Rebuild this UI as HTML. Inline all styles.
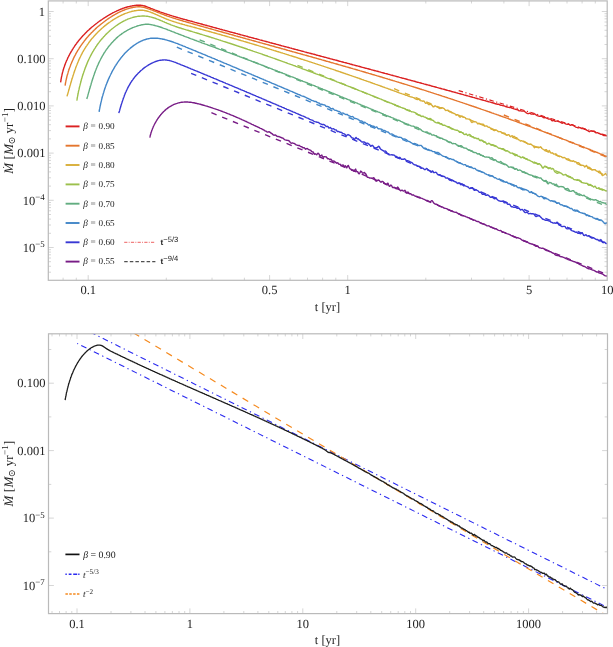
<!DOCTYPE html>
<html lang="en">
<head>
<meta charset="utf-8">
<title>Mass fallback rate</title>
<style>
html,body{margin:0;padding:0;background:#ffffff;}
body{width:613px;height:647px;overflow:hidden;}
svg{display:block;}
</style>
</head>
<body>
<svg width="613" height="647" viewBox="0 0 613 647" text-rendering="geometricPrecision">
<rect width="613" height="647" fill="#ffffff"/>
<g id="top">
<line x1="63.1" y1="280.3" x2="63.1" y2="277.7" stroke="#b4b4b4" stroke-width="0.55" />
<line x1="63.1" y1="0.9" x2="63.1" y2="3.5" stroke="#b4b4b4" stroke-width="0.55" />
<line x1="76.3" y1="280.3" x2="76.3" y2="277.7" stroke="#b4b4b4" stroke-width="0.55" />
<line x1="76.3" y1="0.9" x2="76.3" y2="3.5" stroke="#b4b4b4" stroke-width="0.55" />
<line x1="88.2" y1="280.3" x2="88.2" y2="275.1" stroke="#b4b4b4" stroke-width="0.55" />
<line x1="88.2" y1="0.9" x2="88.2" y2="6.1" stroke="#b4b4b4" stroke-width="0.55" />
<line x1="166.3" y1="280.3" x2="166.3" y2="277.7" stroke="#b4b4b4" stroke-width="0.55" />
<line x1="166.3" y1="0.9" x2="166.3" y2="3.5" stroke="#b4b4b4" stroke-width="0.55" />
<line x1="212.0" y1="280.3" x2="212.0" y2="277.7" stroke="#b4b4b4" stroke-width="0.55" />
<line x1="212.0" y1="0.9" x2="212.0" y2="3.5" stroke="#b4b4b4" stroke-width="0.55" />
<line x1="244.4" y1="280.3" x2="244.4" y2="277.7" stroke="#b4b4b4" stroke-width="0.55" />
<line x1="244.4" y1="0.9" x2="244.4" y2="3.5" stroke="#b4b4b4" stroke-width="0.55" />
<line x1="269.6" y1="280.3" x2="269.6" y2="275.1" stroke="#b4b4b4" stroke-width="0.55" />
<line x1="269.6" y1="0.9" x2="269.6" y2="6.1" stroke="#b4b4b4" stroke-width="0.55" />
<line x1="290.1" y1="280.3" x2="290.1" y2="277.7" stroke="#b4b4b4" stroke-width="0.55" />
<line x1="290.1" y1="0.9" x2="290.1" y2="3.5" stroke="#b4b4b4" stroke-width="0.55" />
<line x1="307.5" y1="280.3" x2="307.5" y2="277.7" stroke="#b4b4b4" stroke-width="0.55" />
<line x1="307.5" y1="0.9" x2="307.5" y2="3.5" stroke="#b4b4b4" stroke-width="0.55" />
<line x1="322.6" y1="280.3" x2="322.6" y2="277.7" stroke="#b4b4b4" stroke-width="0.55" />
<line x1="322.6" y1="0.9" x2="322.6" y2="3.5" stroke="#b4b4b4" stroke-width="0.55" />
<line x1="335.8" y1="280.3" x2="335.8" y2="277.7" stroke="#b4b4b4" stroke-width="0.55" />
<line x1="335.8" y1="0.9" x2="335.8" y2="3.5" stroke="#b4b4b4" stroke-width="0.55" />
<line x1="347.7" y1="280.3" x2="347.7" y2="275.1" stroke="#b4b4b4" stroke-width="0.55" />
<line x1="347.7" y1="0.9" x2="347.7" y2="6.1" stroke="#b4b4b4" stroke-width="0.55" />
<line x1="425.8" y1="280.3" x2="425.8" y2="277.7" stroke="#b4b4b4" stroke-width="0.55" />
<line x1="425.8" y1="0.9" x2="425.8" y2="3.5" stroke="#b4b4b4" stroke-width="0.55" />
<line x1="471.5" y1="280.3" x2="471.5" y2="277.7" stroke="#b4b4b4" stroke-width="0.55" />
<line x1="471.5" y1="0.9" x2="471.5" y2="3.5" stroke="#b4b4b4" stroke-width="0.55" />
<line x1="503.9" y1="280.3" x2="503.9" y2="277.7" stroke="#b4b4b4" stroke-width="0.55" />
<line x1="503.9" y1="0.9" x2="503.9" y2="3.5" stroke="#b4b4b4" stroke-width="0.55" />
<line x1="529.1" y1="280.3" x2="529.1" y2="275.1" stroke="#b4b4b4" stroke-width="0.55" />
<line x1="529.1" y1="0.9" x2="529.1" y2="6.1" stroke="#b4b4b4" stroke-width="0.55" />
<line x1="549.6" y1="280.3" x2="549.6" y2="277.7" stroke="#b4b4b4" stroke-width="0.55" />
<line x1="549.6" y1="0.9" x2="549.6" y2="3.5" stroke="#b4b4b4" stroke-width="0.55" />
<line x1="567.0" y1="280.3" x2="567.0" y2="277.7" stroke="#b4b4b4" stroke-width="0.55" />
<line x1="567.0" y1="0.9" x2="567.0" y2="3.5" stroke="#b4b4b4" stroke-width="0.55" />
<line x1="582.1" y1="280.3" x2="582.1" y2="277.7" stroke="#b4b4b4" stroke-width="0.55" />
<line x1="582.1" y1="0.9" x2="582.1" y2="3.5" stroke="#b4b4b4" stroke-width="0.55" />
<line x1="595.3" y1="280.3" x2="595.3" y2="277.7" stroke="#b4b4b4" stroke-width="0.55" />
<line x1="595.3" y1="0.9" x2="595.3" y2="3.5" stroke="#b4b4b4" stroke-width="0.55" />
<line x1="48.3" y1="272.2" x2="51.0" y2="272.2" stroke="#b4b4b4" stroke-width="0.55" />
<line x1="607.2" y1="272.2" x2="604.5" y2="272.2" stroke="#b4b4b4" stroke-width="0.55" />
<line x1="48.3" y1="266.3" x2="51.0" y2="266.3" stroke="#b4b4b4" stroke-width="0.55" />
<line x1="607.2" y1="266.3" x2="604.5" y2="266.3" stroke="#b4b4b4" stroke-width="0.55" />
<line x1="48.3" y1="261.7" x2="51.0" y2="261.7" stroke="#b4b4b4" stroke-width="0.55" />
<line x1="607.2" y1="261.7" x2="604.5" y2="261.7" stroke="#b4b4b4" stroke-width="0.55" />
<line x1="48.3" y1="258.0" x2="51.0" y2="258.0" stroke="#b4b4b4" stroke-width="0.55" />
<line x1="607.2" y1="258.0" x2="604.5" y2="258.0" stroke="#b4b4b4" stroke-width="0.55" />
<line x1="48.3" y1="254.8" x2="51.0" y2="254.8" stroke="#b4b4b4" stroke-width="0.55" />
<line x1="607.2" y1="254.8" x2="604.5" y2="254.8" stroke="#b4b4b4" stroke-width="0.55" />
<line x1="48.3" y1="252.1" x2="51.0" y2="252.1" stroke="#b4b4b4" stroke-width="0.55" />
<line x1="607.2" y1="252.1" x2="604.5" y2="252.1" stroke="#b4b4b4" stroke-width="0.55" />
<line x1="48.3" y1="249.7" x2="51.0" y2="249.7" stroke="#b4b4b4" stroke-width="0.55" />
<line x1="607.2" y1="249.7" x2="604.5" y2="249.7" stroke="#b4b4b4" stroke-width="0.55" />
<line x1="48.3" y1="247.5" x2="53.7" y2="247.5" stroke="#b4b4b4" stroke-width="0.55" />
<line x1="607.2" y1="247.5" x2="601.8" y2="247.5" stroke="#b4b4b4" stroke-width="0.55" />
<line x1="48.3" y1="233.3" x2="51.0" y2="233.3" stroke="#b4b4b4" stroke-width="0.55" />
<line x1="607.2" y1="233.3" x2="604.5" y2="233.3" stroke="#b4b4b4" stroke-width="0.55" />
<line x1="48.3" y1="225.0" x2="51.0" y2="225.0" stroke="#b4b4b4" stroke-width="0.55" />
<line x1="607.2" y1="225.0" x2="604.5" y2="225.0" stroke="#b4b4b4" stroke-width="0.55" />
<line x1="48.3" y1="219.1" x2="51.0" y2="219.1" stroke="#b4b4b4" stroke-width="0.55" />
<line x1="607.2" y1="219.1" x2="604.5" y2="219.1" stroke="#b4b4b4" stroke-width="0.55" />
<line x1="48.3" y1="214.5" x2="51.0" y2="214.5" stroke="#b4b4b4" stroke-width="0.55" />
<line x1="607.2" y1="214.5" x2="604.5" y2="214.5" stroke="#b4b4b4" stroke-width="0.55" />
<line x1="48.3" y1="210.8" x2="51.0" y2="210.8" stroke="#b4b4b4" stroke-width="0.55" />
<line x1="607.2" y1="210.8" x2="604.5" y2="210.8" stroke="#b4b4b4" stroke-width="0.55" />
<line x1="48.3" y1="207.6" x2="51.0" y2="207.6" stroke="#b4b4b4" stroke-width="0.55" />
<line x1="607.2" y1="207.6" x2="604.5" y2="207.6" stroke="#b4b4b4" stroke-width="0.55" />
<line x1="48.3" y1="204.9" x2="51.0" y2="204.9" stroke="#b4b4b4" stroke-width="0.55" />
<line x1="607.2" y1="204.9" x2="604.5" y2="204.9" stroke="#b4b4b4" stroke-width="0.55" />
<line x1="48.3" y1="202.5" x2="51.0" y2="202.5" stroke="#b4b4b4" stroke-width="0.55" />
<line x1="607.2" y1="202.5" x2="604.5" y2="202.5" stroke="#b4b4b4" stroke-width="0.55" />
<line x1="48.3" y1="200.3" x2="53.7" y2="200.3" stroke="#b4b4b4" stroke-width="0.55" />
<line x1="607.2" y1="200.3" x2="601.8" y2="200.3" stroke="#b4b4b4" stroke-width="0.55" />
<line x1="48.3" y1="186.1" x2="51.0" y2="186.1" stroke="#b4b4b4" stroke-width="0.55" />
<line x1="607.2" y1="186.1" x2="604.5" y2="186.1" stroke="#b4b4b4" stroke-width="0.55" />
<line x1="48.3" y1="177.8" x2="51.0" y2="177.8" stroke="#b4b4b4" stroke-width="0.55" />
<line x1="607.2" y1="177.8" x2="604.5" y2="177.8" stroke="#b4b4b4" stroke-width="0.55" />
<line x1="48.3" y1="171.9" x2="51.0" y2="171.9" stroke="#b4b4b4" stroke-width="0.55" />
<line x1="607.2" y1="171.9" x2="604.5" y2="171.9" stroke="#b4b4b4" stroke-width="0.55" />
<line x1="48.3" y1="167.3" x2="51.0" y2="167.3" stroke="#b4b4b4" stroke-width="0.55" />
<line x1="607.2" y1="167.3" x2="604.5" y2="167.3" stroke="#b4b4b4" stroke-width="0.55" />
<line x1="48.3" y1="163.6" x2="51.0" y2="163.6" stroke="#b4b4b4" stroke-width="0.55" />
<line x1="607.2" y1="163.6" x2="604.5" y2="163.6" stroke="#b4b4b4" stroke-width="0.55" />
<line x1="48.3" y1="160.4" x2="51.0" y2="160.4" stroke="#b4b4b4" stroke-width="0.55" />
<line x1="607.2" y1="160.4" x2="604.5" y2="160.4" stroke="#b4b4b4" stroke-width="0.55" />
<line x1="48.3" y1="157.7" x2="51.0" y2="157.7" stroke="#b4b4b4" stroke-width="0.55" />
<line x1="607.2" y1="157.7" x2="604.5" y2="157.7" stroke="#b4b4b4" stroke-width="0.55" />
<line x1="48.3" y1="155.3" x2="51.0" y2="155.3" stroke="#b4b4b4" stroke-width="0.55" />
<line x1="607.2" y1="155.3" x2="604.5" y2="155.3" stroke="#b4b4b4" stroke-width="0.55" />
<line x1="48.3" y1="153.1" x2="53.7" y2="153.1" stroke="#b4b4b4" stroke-width="0.55" />
<line x1="607.2" y1="153.1" x2="601.8" y2="153.1" stroke="#b4b4b4" stroke-width="0.55" />
<line x1="48.3" y1="138.9" x2="51.0" y2="138.9" stroke="#b4b4b4" stroke-width="0.55" />
<line x1="607.2" y1="138.9" x2="604.5" y2="138.9" stroke="#b4b4b4" stroke-width="0.55" />
<line x1="48.3" y1="130.6" x2="51.0" y2="130.6" stroke="#b4b4b4" stroke-width="0.55" />
<line x1="607.2" y1="130.6" x2="604.5" y2="130.6" stroke="#b4b4b4" stroke-width="0.55" />
<line x1="48.3" y1="124.7" x2="51.0" y2="124.7" stroke="#b4b4b4" stroke-width="0.55" />
<line x1="607.2" y1="124.7" x2="604.5" y2="124.7" stroke="#b4b4b4" stroke-width="0.55" />
<line x1="48.3" y1="120.1" x2="51.0" y2="120.1" stroke="#b4b4b4" stroke-width="0.55" />
<line x1="607.2" y1="120.1" x2="604.5" y2="120.1" stroke="#b4b4b4" stroke-width="0.55" />
<line x1="48.3" y1="116.4" x2="51.0" y2="116.4" stroke="#b4b4b4" stroke-width="0.55" />
<line x1="607.2" y1="116.4" x2="604.5" y2="116.4" stroke="#b4b4b4" stroke-width="0.55" />
<line x1="48.3" y1="113.2" x2="51.0" y2="113.2" stroke="#b4b4b4" stroke-width="0.55" />
<line x1="607.2" y1="113.2" x2="604.5" y2="113.2" stroke="#b4b4b4" stroke-width="0.55" />
<line x1="48.3" y1="110.5" x2="51.0" y2="110.5" stroke="#b4b4b4" stroke-width="0.55" />
<line x1="607.2" y1="110.5" x2="604.5" y2="110.5" stroke="#b4b4b4" stroke-width="0.55" />
<line x1="48.3" y1="108.1" x2="51.0" y2="108.1" stroke="#b4b4b4" stroke-width="0.55" />
<line x1="607.2" y1="108.1" x2="604.5" y2="108.1" stroke="#b4b4b4" stroke-width="0.55" />
<line x1="48.3" y1="105.9" x2="53.7" y2="105.9" stroke="#b4b4b4" stroke-width="0.55" />
<line x1="607.2" y1="105.9" x2="601.8" y2="105.9" stroke="#b4b4b4" stroke-width="0.55" />
<line x1="48.3" y1="91.7" x2="51.0" y2="91.7" stroke="#b4b4b4" stroke-width="0.55" />
<line x1="607.2" y1="91.7" x2="604.5" y2="91.7" stroke="#b4b4b4" stroke-width="0.55" />
<line x1="48.3" y1="83.4" x2="51.0" y2="83.4" stroke="#b4b4b4" stroke-width="0.55" />
<line x1="607.2" y1="83.4" x2="604.5" y2="83.4" stroke="#b4b4b4" stroke-width="0.55" />
<line x1="48.3" y1="77.5" x2="51.0" y2="77.5" stroke="#b4b4b4" stroke-width="0.55" />
<line x1="607.2" y1="77.5" x2="604.5" y2="77.5" stroke="#b4b4b4" stroke-width="0.55" />
<line x1="48.3" y1="72.9" x2="51.0" y2="72.9" stroke="#b4b4b4" stroke-width="0.55" />
<line x1="607.2" y1="72.9" x2="604.5" y2="72.9" stroke="#b4b4b4" stroke-width="0.55" />
<line x1="48.3" y1="69.2" x2="51.0" y2="69.2" stroke="#b4b4b4" stroke-width="0.55" />
<line x1="607.2" y1="69.2" x2="604.5" y2="69.2" stroke="#b4b4b4" stroke-width="0.55" />
<line x1="48.3" y1="66.0" x2="51.0" y2="66.0" stroke="#b4b4b4" stroke-width="0.55" />
<line x1="607.2" y1="66.0" x2="604.5" y2="66.0" stroke="#b4b4b4" stroke-width="0.55" />
<line x1="48.3" y1="63.3" x2="51.0" y2="63.3" stroke="#b4b4b4" stroke-width="0.55" />
<line x1="607.2" y1="63.3" x2="604.5" y2="63.3" stroke="#b4b4b4" stroke-width="0.55" />
<line x1="48.3" y1="60.9" x2="51.0" y2="60.9" stroke="#b4b4b4" stroke-width="0.55" />
<line x1="607.2" y1="60.9" x2="604.5" y2="60.9" stroke="#b4b4b4" stroke-width="0.55" />
<line x1="48.3" y1="58.7" x2="53.7" y2="58.7" stroke="#b4b4b4" stroke-width="0.55" />
<line x1="607.2" y1="58.7" x2="601.8" y2="58.7" stroke="#b4b4b4" stroke-width="0.55" />
<line x1="48.3" y1="44.5" x2="51.0" y2="44.5" stroke="#b4b4b4" stroke-width="0.55" />
<line x1="607.2" y1="44.5" x2="604.5" y2="44.5" stroke="#b4b4b4" stroke-width="0.55" />
<line x1="48.3" y1="36.2" x2="51.0" y2="36.2" stroke="#b4b4b4" stroke-width="0.55" />
<line x1="607.2" y1="36.2" x2="604.5" y2="36.2" stroke="#b4b4b4" stroke-width="0.55" />
<line x1="48.3" y1="30.3" x2="51.0" y2="30.3" stroke="#b4b4b4" stroke-width="0.55" />
<line x1="607.2" y1="30.3" x2="604.5" y2="30.3" stroke="#b4b4b4" stroke-width="0.55" />
<line x1="48.3" y1="25.7" x2="51.0" y2="25.7" stroke="#b4b4b4" stroke-width="0.55" />
<line x1="607.2" y1="25.7" x2="604.5" y2="25.7" stroke="#b4b4b4" stroke-width="0.55" />
<line x1="48.3" y1="22.0" x2="51.0" y2="22.0" stroke="#b4b4b4" stroke-width="0.55" />
<line x1="607.2" y1="22.0" x2="604.5" y2="22.0" stroke="#b4b4b4" stroke-width="0.55" />
<line x1="48.3" y1="18.8" x2="51.0" y2="18.8" stroke="#b4b4b4" stroke-width="0.55" />
<line x1="607.2" y1="18.8" x2="604.5" y2="18.8" stroke="#b4b4b4" stroke-width="0.55" />
<line x1="48.3" y1="16.1" x2="51.0" y2="16.1" stroke="#b4b4b4" stroke-width="0.55" />
<line x1="607.2" y1="16.1" x2="604.5" y2="16.1" stroke="#b4b4b4" stroke-width="0.55" />
<line x1="48.3" y1="13.7" x2="51.0" y2="13.7" stroke="#b4b4b4" stroke-width="0.55" />
<line x1="607.2" y1="13.7" x2="604.5" y2="13.7" stroke="#b4b4b4" stroke-width="0.55" />
<line x1="48.3" y1="11.5" x2="53.7" y2="11.5" stroke="#b4b4b4" stroke-width="0.55" />
<line x1="607.2" y1="11.5" x2="601.8" y2="11.5" stroke="#b4b4b4" stroke-width="0.55" />
<clipPath id="ctop"><rect x="48.3" y="0.9" width="558.9" height="279.4"/></clipPath>
<g clip-path="url(#ctop)">
<polyline points="60.6,82.4 60.7,81.6 60.9,80.8 61.0,79.9 61.1,79.1 61.3,78.3 61.4,77.5 61.6,76.7 61.8,75.9 61.9,75.1 62.1,74.3 62.3,73.5 62.5,72.7 62.7,71.9 62.9,71.2 63.1,70.4 63.4,69.6 63.6,68.8 63.8,68.1 64.1,67.3 64.4,66.5 64.6,65.8 64.9,65.0 65.2,64.3 65.4,63.5 65.7,62.8 66.0,62.1 66.3,61.3 66.6,60.6 67.0,59.9 67.3,59.2 67.6,58.4 67.9,57.7 68.3,57.0 68.6,56.3 69.0,55.6 69.4,54.9 69.7,54.2 70.1,53.5 70.5,52.8 70.9,52.1 71.3,51.4 71.7,50.8 72.1,50.1 72.5,49.4 72.9,48.8 73.3,48.1 73.8,47.4 74.2,46.8 74.6,46.1 75.1,45.5 75.5,44.8 76.0,44.2 76.5,43.6 76.9,42.9 77.4,42.3 77.9,41.7 78.4,41.0 78.9,40.4 79.4,39.8 79.9,39.2 80.4,38.6 80.9,38.0 81.5,37.4 82.0,36.8 82.5,36.2 83.1,35.6 83.6,35.0 84.2,34.5 84.7,33.9 85.3,33.3 85.8,32.8 86.4,32.2 87.0,31.6 87.5,31.1 88.1,30.5 88.7,30.0 89.3,29.4 89.9,28.9 90.5,28.4 91.1,27.8 91.7,27.3 92.3,26.8 93.0,26.3 93.6,25.8 94.2,25.3 94.8,24.7 95.5,24.2 96.1,23.7 96.7,23.3 97.4,22.8 98.0,22.3 98.7,21.8 99.3,21.3 100.0,20.8 100.7,20.4 101.3,19.9 102.0,19.5 102.7,19.0 103.4,18.5 104.0,18.1 104.7,17.7 105.4,17.2 106.1,16.8 106.8,16.4 107.5,15.9 108.2,15.5 108.9,15.1 109.6,14.7 110.3,14.3 111.0,13.9 111.7,13.5 112.4,13.1 113.1,12.7 113.9,12.4 114.6,12.0 115.3,11.6 116.0,11.3 116.8,10.9 117.5,10.6 118.2,10.3 119.0,10.0 119.7,9.6 120.4,9.3 121.2,9.0 121.9,8.8 122.6,8.5 123.4,8.2 124.1,8.0 124.9,7.7 125.6,7.5 126.4,7.3 127.1,7.0 127.9,6.8 128.6,6.6 129.4,6.5 130.1,6.3 130.9,6.1 131.7,6.0 132.4,5.8 133.2,5.7 133.9,5.6 134.7,5.5 135.5,5.4 136.2,5.3 137.0,5.3 137.7,5.2 138.5,5.2 139.3,5.2 140.0,5.3 140.8,5.3 141.5,5.4 142.3,5.5 143.1,5.6 143.8,5.8 144.6,6.0 145.4,6.2 146.1,6.5 146.9,6.8 147.7,7.1 148.4,7.4 149.2,7.7 150.0,8.0 150.7,8.3 151.5,8.6 152.3,8.9 153.0,9.2 153.8,9.5 154.6,9.8 155.3,10.1 156.1,10.4 156.9,10.7 157.6,11.0 158.4,11.3 159.2,11.5 159.9,11.8 160.7,12.1 161.5,12.4 162.2,12.6 163.0,12.9 163.8,13.2 164.5,13.4 165.3,13.7 166.1,13.9 166.8,14.2 167.6,14.4 168.4,14.7 169.1,14.9 169.9,15.2 170.7,15.4 171.4,15.6 172.2,15.9 173.0,16.1 173.7,16.3 174.5,16.6 175.3,16.8 176.0,17.0 176.8,17.2 177.6,17.5 178.3,17.7 179.1,17.9 179.9,18.1 180.6,18.3 181.4,18.6 182.2,18.8 182.9,19.0 183.7,19.2 184.5,19.4 185.3,19.6 186.0,19.8 186.8,20.0 187.6,20.3 188.3,20.5 189.1,20.7 189.9,20.9 190.6,21.1 191.4,21.3 192.2,21.5 192.9,21.7 193.7,21.9 194.5,22.2 195.2,22.4 196.0,22.6 196.8,22.8 197.5,23.0 198.3,23.2 199.1,23.4 199.9,23.6 200.6,23.8 201.4,24.0 202.2,24.2 202.9,24.5 203.7,24.7 204.5,24.9 205.2,25.1 206.0,25.3 206.8,25.5 207.5,25.7 208.3,25.9 209.1,26.1 209.9,26.3 210.6,26.6 211.4,26.8 212.2,27.0 212.9,27.2 213.7,27.4 214.5,27.6 215.2,27.8 216.0,28.0 216.8,28.2 217.5,28.4 218.3,28.6 219.1,28.8 219.9,29.1 220.6,29.3 221.4,29.5 222.2,29.7 222.9,29.9 223.7,30.1 224.5,30.3 225.2,30.5 226.0,30.7 226.8,30.9 227.6,31.1 228.3,31.3 229.1,31.6 229.9,31.8 230.6,32.0 231.4,32.2 232.2,32.4 233.0,32.6 233.7,32.8 234.5,33.0 235.3,33.2 236.0,33.4 236.8,33.6 237.6,33.8 238.3,34.1 239.1,34.3 239.9,34.5 240.7,34.7 241.4,34.9 242.2,35.1 243.0,35.3 243.7,35.5 244.5,35.7 245.3,35.9 246.1,36.1 246.8,36.3 247.6,36.5 248.4,36.8 249.1,37.0 249.9,37.2 250.7,37.4 251.5,37.6 252.2,37.8 253.0,38.0 253.8,38.2 254.5,38.4 255.3,38.6 256.1,38.8 256.9,39.0 257.6,39.2 258.4,39.4 259.2,39.7 259.9,39.9 260.7,40.1 261.5,40.3 262.3,40.5 263.0,40.7 263.8,40.9 264.6,41.1 265.3,41.3 266.1,41.5 266.9,41.7 267.7,41.9 268.4,42.1 269.2,42.3 270.0,42.6 270.7,42.8 271.5,43.0 272.3,43.2 273.1,43.4 273.8,43.6 274.6,43.8 275.4,44.0 276.1,44.2 276.9,44.4 277.7,44.6 278.5,44.8 279.2,45.0 280.0,45.2 280.8,45.5 281.6,45.7 282.3,45.9 283.1,46.1 283.9,46.3 284.6,46.5 285.4,46.7 286.2,46.9 287.0,47.1 287.7,47.3 288.5,47.5 289.3,47.7 290.0,47.9 290.8,48.1 291.6,48.3 292.4,48.6 293.1,48.8 293.9,49.0 294.7,49.2 295.5,49.4 296.2,49.6 297.0,49.8 297.8,50.0 298.5,50.2 299.3,50.4 300.1,50.6 300.9,50.8 301.6,51.0 302.4,51.2 303.2,51.4 304.0,51.7 304.7,51.9 305.5,52.1 306.3,52.3 307.0,52.5 307.8,52.7 308.6,52.9 309.4,53.1 310.1,53.3 310.9,53.5 311.7,53.7 312.5,53.9 313.2,54.1 314.0,54.3 314.8,54.5 315.5,54.7 316.3,55.0 317.1,55.2 317.9,55.4 318.6,55.6 319.4,55.8 320.2,56.0 321.0,56.2 321.7,56.4 322.5,56.6 323.3,56.8 324.0,57.0 324.8,57.2 325.6,57.4 326.4,57.6 327.1,57.8 327.9,58.1 328.7,58.3 329.5,58.5 330.2,58.7 331.0,58.9 331.8,59.1 332.6,59.3 333.3,59.5 334.1,59.7 334.9,59.9 335.6,60.1 336.4,60.3 337.2,60.5 338.0,60.7 338.7,61.0 339.5,61.2 340.3,61.4 341.1,61.6 341.8,61.8 342.6,62.0 343.4,62.2 344.1,62.4 344.9,62.6 345.7,62.8 346.5,63.0 347.2,63.2 348.0,63.4 348.8,63.6 349.6,63.8 350.3,64.1 351.1,64.3 351.9,64.5 352.7,64.7 353.4,64.9 354.2,65.1 355.0,65.3 355.7,65.5 356.5,65.7 357.3,65.9 358.1,66.1 358.8,66.3 359.6,66.5 360.4,66.7 361.2,67.0 361.9,67.2 362.7,67.4 363.5,67.6 364.3,67.8 365.0,68.0 365.8,68.2 366.6,68.4 367.3,68.6 368.1,68.8 368.9,69.0 369.7,69.2 370.4,69.4 371.2,69.7 372.0,69.9 372.8,70.1 373.5,70.3 374.3,70.5 375.1,70.7 375.9,70.9 376.6,71.1 377.4,71.3 378.2,71.5 378.9,71.7 379.7,71.9 380.5,72.1 381.3,72.4 382.0,72.6 382.8,72.8 383.6,73.0 384.4,73.2 385.1,73.4 385.9,73.6 386.7,73.8 387.5,74.0 388.2,74.2 389.0,74.4 389.8,74.6 390.5,74.9 391.3,75.1 392.1,75.3 392.9,75.5 393.6,75.7 394.4,75.9 395.2,76.1 396.0,76.3 396.7,76.5 397.5,76.7 398.3,76.9 399.1,77.2 399.8,77.4 400.6,77.6 401.4,77.8 402.1,78.0 402.9,78.2 403.7,78.4 404.5,78.6 405.2,78.8 406.0,79.0 406.8,79.2 407.6,79.5 408.3,79.7 409.1,79.9 409.9,80.1 410.7,80.3 411.4,80.5 412.2,80.7 413.0,80.9 413.7,81.1 414.5,81.3 415.3,81.5 416.1,81.8 416.8,82.0 417.6,82.2 418.4,82.4 419.2,82.6 419.9,82.8 420.7,83.0 421.5,83.2 422.2,83.4 423.0,83.6 423.8,83.9 424.6,84.1 425.3,84.3 426.1,84.5 426.9,84.7 427.7,84.9 428.4,85.1 429.2,85.3 430.0,85.5 430.7,85.7 431.5,86.0 432.3,86.2 433.1,86.4 433.8,86.6 434.6,86.8 435.4,87.0 436.2,87.2 436.9,87.4 437.7,87.6 438.5,87.9 439.2,88.1 440.0,88.3 440.8,88.5 441.6,88.7 442.3,88.9 443.1,89.1 443.9,89.3 444.7,89.5 445.4,89.8 446.2,90.0 447.0,90.2 447.7,90.4 448.5,90.6 449.3,90.8 450.1,91.0 450.8,91.2 451.6,91.5 452.4,91.7 453.2,91.9 453.9,92.1 454.7,92.3 455.5,92.5 456.2,92.7 457.0,92.9 457.8,93.2 458.6,93.4 459.3,93.6 460.1,93.8 460.9,94.0 461.6,94.2 462.4,94.4 463.2,94.6 464.0,94.9 464.7,95.1 465.5,95.3 466.3,95.5 467.1,95.7 467.8,95.9 468.6,96.1 469.4,96.3 470.1,96.6 470.9,96.8 471.7,97.0 472.5,97.2 473.2,97.4 474.0,97.6 474.8,97.8 475.5,98.1 476.3,98.3 477.1,98.5 477.9,98.7 478.6,98.9 479.4,99.1 480.2,99.3 480.9,99.6 481.7,99.8 482.5,100.0 483.3,100.2 484.0,100.4 484.8,100.6 485.6,100.8 486.3,101.1 487.1,101.3 487.9,101.5 488.7,101.7 489.4,101.9 490.2,102.1 491.0,102.3 491.7,102.6 492.5,102.8 493.3,103.0 494.1,103.2 494.8,103.5 495.6,103.8 496.4,104.0 497.1,104.2 497.9,104.2 498.7,104.3 499.4,104.6 500.2,105.0 501.0,105.2 501.8,105.4 502.5,105.6 503.3,105.7 504.1,105.9 504.8,106.2 505.6,106.6 506.4,106.8 507.2,107.0 507.9,107.2 508.7,107.4 509.5,107.5 510.2,107.3 511.0,107.7 511.8,108.2 512.5,108.4 513.3,108.6 514.1,108.9 514.9,109.1 515.6,109.3 516.4,109.5 517.2,109.6 517.9,109.9 518.7,110.6 519.5,110.9 520.2,110.7 521.0,110.9 521.8,111.1 522.6,111.1 523.3,111.0 524.1,111.1 524.9,111.7 525.6,112.3 526.4,112.9 527.2,113.3 527.9,113.6 528.7,113.5 529.5,113.2 530.2,113.4 531.0,114.0 531.8,114.1 532.6,114.0 533.3,114.2 534.1,114.1 534.9,114.0 535.6,114.5 536.4,115.2 537.2,115.6 537.9,115.8 538.7,116.1 539.5,116.4 540.2,116.3 541.0,116.2 541.8,116.3 542.6,116.8 543.3,117.6 544.1,117.7 544.9,117.5 545.6,117.7 546.4,118.1 547.2,118.3 547.9,118.7 548.7,119.1 549.5,119.1 550.2,118.9 551.0,119.5 551.8,120.7 552.5,120.9 553.3,120.3 554.1,120.6 554.8,121.1 555.6,121.2 556.4,121.1 557.2,121.0 557.9,121.3 558.7,121.6 559.5,121.8 560.2,122.1 561.0,122.5 561.8,123.1 562.5,123.2 563.3,122.7 564.1,122.7 564.8,123.3 565.6,123.8 566.4,124.1 567.1,124.3 567.9,124.2 568.7,124.2 569.4,124.5 570.2,125.2 571.0,125.0 571.7,124.7 572.5,124.8 573.3,125.2 574.0,125.9 574.8,126.5 575.6,127.0 576.3,127.4 577.1,127.4 577.9,127.8 578.6,127.9 579.4,127.6 580.2,127.6 580.9,128.2 581.7,128.5 582.5,128.5 583.2,128.5 584.0,129.0 584.8,129.4 585.5,129.6 586.3,129.8 587.1,130.3 587.8,130.7 588.6,131.3 589.4,131.7 590.1,131.2 590.9,130.8 591.7,131.0 592.4,131.3 593.2,131.3 594.0,131.0 594.7,131.5 595.5,132.6 596.3,132.9 597.0,132.6 597.8,132.8 598.5,133.3 599.3,133.6 600.1,133.9 600.8,134.3 601.6,134.3 602.4,134.6 603.1,135.2 603.9,135.5 604.7,135.6 605.4,135.6 606.2,135.7 607.0,135.7 607.2,135.7" fill="none" stroke="#db2122" stroke-width="1.4" stroke-linejoin="round" />
<polyline points="65.1,85.6 65.2,84.8 65.4,84.0 65.5,83.2 65.6,82.5 65.8,81.7 65.9,80.9 66.1,80.1 66.3,79.3 66.5,78.5 66.6,77.8 66.8,77.0 67.0,76.2 67.2,75.4 67.4,74.7 67.7,73.9 67.9,73.1 68.1,72.4 68.3,71.6 68.6,70.8 68.8,70.1 69.1,69.3 69.3,68.5 69.6,67.8 69.9,67.0 70.2,66.3 70.5,65.5 70.7,64.8 71.0,64.0 71.4,63.3 71.7,62.5 72.0,61.8 72.3,61.1 72.6,60.3 73.0,59.6 73.3,58.9 73.6,58.2 74.0,57.4 74.4,56.7 74.7,56.0 75.1,55.3 75.5,54.6 75.8,53.9 76.2,53.2 76.6,52.5 77.0,51.8 77.4,51.1 77.8,50.4 78.3,49.7 78.7,49.1 79.1,48.4 79.5,47.7 80.0,47.0 80.4,46.4 80.9,45.7 81.3,45.1 81.8,44.4 82.2,43.8 82.7,43.1 83.2,42.5 83.7,41.8 84.1,41.2 84.6,40.6 85.1,40.0 85.6,39.3 86.1,38.7 86.6,38.1 87.1,37.5 87.7,36.9 88.2,36.3 88.7,35.7 89.3,35.1 89.8,34.6 90.3,34.0 90.9,33.4 91.4,32.8 92.0,32.3 92.6,31.7 93.1,31.1 93.7,30.6 94.3,30.0 94.9,29.5 95.4,28.9 96.0,28.4 96.6,27.8 97.2,27.3 97.8,26.8 98.4,26.3 99.1,25.7 99.7,25.2 100.3,24.7 100.9,24.2 101.5,23.7 102.2,23.2 102.8,22.7 103.5,22.2 104.1,21.7 104.8,21.2 105.4,20.7 106.1,20.2 106.7,19.8 107.4,19.3 108.1,18.8 108.7,18.4 109.4,17.9 110.1,17.5 110.8,17.0 111.5,16.6 112.2,16.1 112.9,15.7 113.6,15.3 114.3,14.9 115.0,14.5 115.7,14.1 116.4,13.7 117.1,13.3 117.8,12.9 118.5,12.5 119.3,12.2 120.0,11.8 120.7,11.5 121.4,11.2 122.2,10.9 122.9,10.5 123.6,10.2 124.4,10.0 125.1,9.7 125.8,9.4 126.6,9.1 127.3,8.9 128.1,8.7 128.8,8.4 129.6,8.2 130.3,8.0 131.1,7.9 131.8,7.7 132.6,7.5 133.3,7.4 134.1,7.2 134.8,7.1 135.6,7.0 136.3,6.9 137.1,6.9 137.9,6.8 138.6,6.8 139.4,6.8 140.1,6.8 140.9,6.9 141.7,7.0 142.4,7.1 143.2,7.2 143.9,7.4 144.7,7.6 145.5,7.8 146.2,8.1 147.0,8.3 147.8,8.6 148.5,8.8 149.3,9.1 150.0,9.4 150.8,9.7 151.6,9.9 152.3,10.2 153.1,10.5 153.9,10.8 154.6,11.1 155.4,11.4 156.1,11.7 156.9,12.0 157.7,12.3 158.4,12.6 159.2,12.9 160.0,13.2 160.7,13.5 161.5,13.8 162.3,14.1 163.0,14.4 163.8,14.7 164.5,15.0 165.3,15.3 166.1,15.5 166.8,15.8 167.6,16.1 168.4,16.4 169.1,16.6 169.9,16.9 170.7,17.1 171.4,17.4 172.2,17.7 173.0,17.9 173.7,18.2 174.5,18.4 175.2,18.6 176.0,18.9 176.8,19.1 177.5,19.4 178.3,19.6 179.1,19.8 179.8,20.1 180.6,20.3 181.4,20.5 182.1,20.7 182.9,21.0 183.7,21.2 184.4,21.4 185.2,21.6 186.0,21.8 186.7,22.1 187.5,22.3 188.3,22.5 189.0,22.7 189.8,22.9 190.6,23.2 191.3,23.4 192.1,23.6 192.9,23.8 193.6,24.0 194.4,24.3 195.2,24.5 195.9,24.7 196.7,24.9 197.5,25.1 198.2,25.3 199.0,25.6 199.8,25.8 200.5,26.0 201.3,26.2 202.1,26.4 202.8,26.6 203.6,26.9 204.4,27.1 205.1,27.3 205.9,27.5 206.7,27.7 207.4,27.9 208.2,28.2 209.0,28.4 209.7,28.6 210.5,28.8 211.3,29.0 212.0,29.2 212.8,29.4 213.6,29.7 214.3,29.9 215.1,30.1 215.9,30.3 216.6,30.5 217.4,30.7 218.2,31.0 218.9,31.2 219.7,31.4 220.5,31.6 221.2,31.8 222.0,32.0 222.8,32.2 223.5,32.5 224.3,32.7 225.1,32.9 225.8,33.1 226.6,33.3 227.4,33.5 228.1,33.7 228.9,34.0 229.7,34.2 230.5,34.4 231.2,34.6 232.0,34.8 232.8,35.0 233.5,35.2 234.3,35.5 235.1,35.7 235.8,35.9 236.6,36.1 237.4,36.3 238.1,36.5 238.9,36.7 239.7,36.9 240.4,37.2 241.2,37.4 242.0,37.6 242.8,37.8 243.5,38.0 244.3,38.2 245.1,38.4 245.8,38.7 246.6,38.9 247.4,39.1 248.1,39.3 248.9,39.5 249.7,39.7 250.4,39.9 251.2,40.1 252.0,40.4 252.7,40.6 253.5,40.8 254.3,41.0 255.1,41.2 255.8,41.4 256.6,41.6 257.4,41.9 258.1,42.1 258.9,42.3 259.7,42.5 260.4,42.7 261.2,42.9 262.0,43.1 262.7,43.3 263.5,43.6 264.3,43.8 265.1,44.0 265.8,44.2 266.6,44.4 267.4,44.6 268.1,44.8 268.9,45.0 269.7,45.3 270.4,45.5 271.2,45.7 272.0,45.9 272.7,46.1 273.5,46.3 274.3,46.5 275.1,46.8 275.8,47.0 276.6,47.2 277.4,47.4 278.1,47.6 278.9,47.8 279.7,48.0 280.4,48.2 281.2,48.5 282.0,48.7 282.8,48.9 283.5,49.1 284.3,49.3 285.1,49.5 285.8,49.7 286.6,50.0 287.4,50.2 288.1,50.4 288.9,50.6 289.7,50.8 290.4,51.0 291.2,51.2 292.0,51.5 292.8,51.7 293.5,51.9 294.3,52.1 295.1,52.3 295.8,52.5 296.6,52.7 297.4,53.0 298.1,53.2 298.9,53.4 299.7,53.6 300.5,53.8 301.2,54.0 302.0,54.2 302.8,54.5 303.5,54.7 304.3,54.9 305.1,55.1 305.8,55.3 306.6,55.5 307.4,55.8 308.2,56.0 308.9,56.2 309.7,56.4 310.5,56.6 311.2,56.8 312.0,57.0 312.8,57.3 313.5,57.5 314.3,57.7 315.1,57.9 315.8,58.1 316.6,58.3 317.4,58.6 318.2,58.8 318.9,59.0 319.7,59.2 320.5,59.4 321.2,59.6 322.0,59.9 322.8,60.1 323.5,60.3 324.3,60.5 325.1,60.7 325.8,61.0 326.6,61.2 327.4,61.4 328.2,61.6 328.9,61.8 329.7,62.0 330.5,62.3 331.2,62.5 332.0,62.7 332.8,62.9 333.5,63.1 334.3,63.4 335.1,63.6 335.8,63.8 336.6,64.0 337.4,64.2 338.2,64.5 338.9,64.7 339.7,64.9 340.5,65.1 341.2,65.3 342.0,65.6 342.8,65.8 343.5,66.0 344.3,66.2 345.1,66.4 345.8,66.7 346.6,66.9 347.4,67.1 348.2,67.3 348.9,67.5 349.7,67.8 350.5,68.0 351.2,68.2 352.0,68.4 352.8,68.7 353.5,68.9 354.3,69.1 355.1,69.3 355.8,69.5 356.6,69.8 357.4,70.0 358.1,70.2 358.9,70.4 359.7,70.7 360.4,70.9 361.2,71.1 362.0,71.3 362.7,71.6 363.5,71.8 364.3,72.0 365.1,72.2 365.8,72.5 366.6,72.7 367.4,72.9 368.1,73.1 368.9,73.4 369.7,73.6 370.4,73.8 371.2,74.0 372.0,74.3 372.7,74.5 373.5,74.7 374.3,74.9 375.0,75.2 375.8,75.4 376.6,75.6 377.3,75.9 378.1,76.1 378.9,76.3 379.6,76.5 380.4,76.8 381.2,77.0 381.9,77.2 382.7,77.5 383.5,77.7 384.2,77.9 385.0,78.2 385.8,78.4 386.5,78.6 387.3,78.8 388.1,79.1 388.8,79.3 389.6,79.5 390.4,79.8 391.1,80.0 391.9,80.2 392.7,80.5 393.4,80.7 394.2,80.9 395.0,81.2 395.7,81.4 396.5,81.6 397.3,81.9 398.0,82.1 398.8,82.3 399.6,82.6 400.3,82.8 401.1,83.0 401.9,83.3 402.6,83.5 403.4,83.7 404.2,84.0 404.9,84.2 405.7,84.4 406.5,84.7 407.2,84.9 408.0,85.2 408.8,85.4 409.5,85.6 410.3,85.9 411.1,86.1 411.8,86.3 412.6,86.6 413.4,86.8 414.1,87.1 414.9,87.3 415.6,87.5 416.4,87.8 417.2,88.0 417.9,88.3 418.7,88.5 419.5,88.7 420.2,89.0 421.0,89.2 421.8,89.5 422.5,89.7 423.3,89.9 424.1,90.2 424.8,90.4 425.6,90.7 426.3,90.9 427.1,91.2 427.9,91.4 428.6,91.7 429.4,91.9 430.2,92.1 430.9,92.4 431.7,92.6 432.5,92.9 433.2,93.1 434.0,93.4 434.7,93.6 435.5,93.9 436.3,94.1 437.0,94.4 437.8,94.6 438.6,94.8 439.3,95.1 440.1,95.3 440.8,95.6 441.6,95.8 442.4,96.1 443.1,96.3 443.9,96.6 444.7,96.8 445.4,97.1 446.2,97.3 446.9,97.6 447.7,97.8 448.5,98.1 449.2,98.3 450.0,98.6 450.8,98.8 451.5,99.1 452.3,99.3 453.0,99.6 453.8,99.8 454.6,100.1 455.3,100.4 456.1,100.6 456.8,100.9 457.6,101.1 458.4,101.4 459.1,101.6 459.9,101.9 460.6,102.1 461.4,102.4 462.2,102.6 462.9,102.9 463.7,103.2 464.4,103.4 465.2,103.7 466.0,103.9 466.7,104.2 467.5,104.4 468.2,104.7 469.0,105.0 469.8,105.2 470.5,105.5 471.3,105.7 472.0,106.0 472.8,106.2 473.6,106.5 474.3,106.8 475.1,107.0 475.8,107.3 476.6,107.5 477.4,107.8 478.1,108.1 478.9,108.3 479.6,108.6 480.4,108.8 481.1,109.1 481.9,109.4 482.7,109.6 483.4,109.9 484.2,110.2 484.9,110.4 485.7,110.7 486.5,111.0 487.2,111.2 488.0,111.5 488.7,111.7 489.5,112.0 490.2,112.3 491.0,112.5 491.7,112.8 492.5,113.1 493.3,113.3 494.0,113.6 494.8,113.9 495.5,114.1 496.3,114.4 497.0,114.7 497.8,114.9 498.6,115.2 499.3,115.5 500.1,115.7 500.8,116.0 501.6,116.3 502.3,116.5 503.1,116.8 503.8,117.1 504.6,117.3 505.4,117.6 506.1,117.9 506.9,118.2 507.6,118.4 508.4,118.7 509.1,119.0 509.9,119.2 510.6,119.5 511.4,119.8 512.1,120.1 512.9,120.3 513.6,120.6 514.4,120.9 515.2,121.1 515.9,121.4 516.7,121.7 517.4,122.0 518.2,122.2 518.9,122.5 519.7,122.8 520.4,123.1 521.2,123.3 521.9,123.6 522.7,123.9 523.4,124.2 524.2,124.4 524.9,124.7 525.7,125.0 526.4,125.3 527.2,125.5 527.9,125.8 528.7,126.1 529.4,126.4 530.2,126.6 531.0,126.9 531.7,127.2 532.5,127.5 533.2,127.8 534.0,128.0 534.7,128.3 535.5,128.6 536.2,128.9 537.0,129.2 537.7,129.4 538.5,129.7 539.2,130.0 540.0,130.3 540.7,130.6 541.5,130.8 542.2,131.1 542.9,131.4 543.7,131.7 544.4,132.0 545.2,132.2 545.9,132.5 546.7,132.8 547.4,133.1 548.2,133.4 548.9,133.6 549.7,133.9 550.4,134.2 551.2,134.5 551.9,134.8 552.7,135.1 553.4,135.3 554.2,135.6 554.9,136.0 555.7,136.2 556.4,136.5 557.2,136.8 557.9,137.1 558.6,137.4 559.4,137.7 560.1,138.0 560.9,138.2 561.6,138.5 562.4,138.8 563.1,139.1 563.9,139.4 564.6,139.6 565.4,139.9 566.1,140.1 566.8,140.5 567.6,140.8 568.3,141.1 569.1,141.4 569.8,141.6 570.6,141.9 571.3,142.2 572.1,142.4 572.8,142.7 573.5,143.0 574.3,143.5 575.0,143.8 575.8,144.1 576.5,144.3 577.3,144.6 578.0,144.8 578.7,145.1 579.5,145.3 580.2,145.6 581.0,146.0 581.7,146.3 582.5,146.6 583.2,146.9 583.9,147.2 584.7,147.6 585.4,147.9 586.2,148.1 586.9,148.4 587.6,148.7 588.4,149.0 589.1,149.3 589.9,149.5 590.6,149.8 591.3,150.1 592.1,150.4 592.8,150.8 593.6,151.1 594.3,151.3 595.0,151.6 595.8,152.0 596.5,152.3 597.3,152.5 598.0,152.8 598.7,153.1 599.5,153.4 600.2,153.8 600.9,154.1 601.7,154.3 602.4,154.5 603.2,154.7 603.9,155.2 604.6,155.7 605.4,156.1 606.1,156.3 606.8,156.4 607.2,156.4" fill="none" stroke="#e4762e" stroke-width="1.4" stroke-linejoin="round" />
<polyline points="67.0,96.4 67.2,95.6 67.4,94.9 67.7,94.1 67.9,93.4 68.1,92.6 68.3,91.9 68.5,91.1 68.7,90.3 69.0,89.6 69.2,88.8 69.4,88.0 69.6,87.3 69.8,86.5 70.0,85.7 70.3,85.0 70.5,84.2 70.7,83.4 70.9,82.6 71.2,81.9 71.4,81.1 71.6,80.3 71.8,79.6 72.1,78.8 72.3,78.0 72.6,77.2 72.8,76.5 73.0,75.7 73.3,74.9 73.5,74.2 73.8,73.4 74.0,72.6 74.3,71.9 74.6,71.1 74.8,70.3 75.1,69.6 75.4,68.8 75.6,68.1 75.9,67.3 76.2,66.5 76.5,65.8 76.8,65.0 77.1,64.3 77.4,63.5 77.7,62.8 78.0,62.1 78.3,61.3 78.6,60.6 78.9,59.9 79.2,59.1 79.6,58.4 79.9,57.7 80.3,57.0 80.6,56.2 81.0,55.5 81.3,54.8 81.7,54.1 82.1,53.4 82.4,52.7 82.8,52.0 83.2,51.3 83.6,50.6 84.0,49.9 84.4,49.3 84.8,48.6 85.3,47.9 85.7,47.2 86.1,46.6 86.6,45.9 87.0,45.3 87.4,44.6 87.9,44.0 88.4,43.3 88.8,42.7 89.3,42.0 89.8,41.4 90.3,40.8 90.7,40.2 91.2,39.5 91.7,38.9 92.2,38.3 92.8,37.7 93.3,37.1 93.8,36.5 94.3,35.9 94.9,35.3 95.4,34.7 95.9,34.1 96.5,33.6 97.1,33.0 97.6,32.4 98.2,31.8 98.8,31.3 99.3,30.7 99.9,30.2 100.5,29.6 101.1,29.1 101.7,28.5 102.3,28.0 102.9,27.5 103.5,26.9 104.2,26.4 104.8,25.9 105.4,25.4 106.1,24.9 106.7,24.4 107.3,23.9 108.0,23.4 108.7,22.9 109.3,22.4 110.0,22.0 110.7,21.5 111.3,21.0 112.0,20.6 112.7,20.1 113.4,19.7 114.1,19.2 114.8,18.8 115.5,18.4 116.2,18.0 116.9,17.6 117.6,17.2 118.3,16.8 119.0,16.4 119.7,16.1 120.4,15.7 121.2,15.3 121.9,15.0 122.6,14.7 123.4,14.3 124.1,14.0 124.8,13.7 125.6,13.4 126.3,13.2 127.1,12.9 127.8,12.6 128.5,12.4 129.3,12.1 130.0,11.9 130.8,11.7 131.5,11.5 132.3,11.3 133.1,11.1 133.8,11.0 134.6,10.8 135.3,10.7 136.1,10.6 136.8,10.5 137.6,10.4 138.4,10.3 139.1,10.2 139.9,10.2 140.6,10.2 141.4,10.2 142.2,10.2 142.9,10.3 143.7,10.4 144.4,10.5 145.2,10.7 145.9,10.8 146.7,11.0 147.5,11.2 148.2,11.4 149.0,11.7 149.7,11.9 150.5,12.2 151.2,12.5 152.0,12.7 152.7,13.0 153.5,13.3 154.2,13.7 155.0,14.0 155.7,14.3 156.5,14.6 157.2,15.0 158.0,15.3 158.8,15.7 159.5,16.0 160.3,16.3 161.0,16.7 161.8,17.0 162.5,17.4 163.3,17.7 164.0,18.0 164.8,18.3 165.5,18.7 166.3,19.0 167.1,19.3 167.8,19.5 168.6,19.8 169.3,20.1 170.1,20.4 170.9,20.7 171.6,20.9 172.4,21.2 173.2,21.4 173.9,21.7 174.7,21.9 175.5,22.2 176.2,22.4 177.0,22.7 177.8,22.9 178.5,23.1 179.3,23.3 180.1,23.6 180.8,23.8 181.6,24.0 182.4,24.2 183.1,24.4 183.9,24.6 184.7,24.8 185.5,25.1 186.2,25.3 187.0,25.5 187.8,25.7 188.5,25.9 189.3,26.1 190.1,26.3 190.9,26.5 191.6,26.7 192.4,26.9 193.2,27.1 193.9,27.3 194.7,27.5 195.5,27.7 196.2,27.9 197.0,28.2 197.8,28.4 198.6,28.6 199.3,28.8 200.1,29.0 200.9,29.2 201.6,29.4 202.4,29.6 203.2,29.8 203.9,30.0 204.7,30.2 205.5,30.5 206.2,30.7 207.0,30.9 207.8,31.1 208.5,31.3 209.3,31.5 210.1,31.7 210.9,31.9 211.6,32.2 212.4,32.4 213.2,32.6 213.9,32.8 214.7,33.0 215.5,33.2 216.2,33.4 217.0,33.7 217.8,33.9 218.5,34.1 219.3,34.3 220.1,34.5 220.8,34.7 221.6,35.0 222.4,35.2 223.1,35.4 223.9,35.6 224.7,35.8 225.4,36.0 226.2,36.3 227.0,36.5 227.7,36.7 228.5,36.9 229.3,37.1 230.0,37.4 230.8,37.6 231.6,37.8 232.3,38.0 233.1,38.2 233.9,38.5 234.6,38.7 235.4,38.9 236.2,39.1 236.9,39.3 237.7,39.6 238.5,39.8 239.2,40.0 240.0,40.2 240.8,40.5 241.5,40.7 242.3,40.9 243.1,41.1 243.8,41.4 244.6,41.6 245.4,41.8 246.1,42.0 246.9,42.3 247.7,42.5 248.4,42.7 249.2,42.9 249.9,43.2 250.7,43.4 251.5,43.6 252.2,43.8 253.0,44.1 253.8,44.3 254.5,44.5 255.3,44.8 256.1,45.0 256.8,45.2 257.6,45.4 258.4,45.7 259.1,45.9 259.9,46.1 260.6,46.4 261.4,46.6 262.2,46.8 262.9,47.1 263.7,47.3 264.5,47.5 265.2,47.8 266.0,48.0 266.8,48.2 267.5,48.5 268.3,48.7 269.0,48.9 269.8,49.2 270.6,49.4 271.3,49.6 272.1,49.9 272.9,50.1 273.6,50.3 274.4,50.6 275.1,50.8 275.9,51.0 276.7,51.3 277.4,51.5 278.2,51.7 279.0,52.0 279.7,52.2 280.5,52.5 281.2,52.7 282.0,52.9 282.8,53.2 283.5,53.4 284.3,53.6 285.1,53.9 285.8,54.1 286.6,54.4 287.3,54.6 288.1,54.8 288.9,55.1 289.6,55.3 290.4,55.6 291.1,55.8 291.9,56.0 292.7,56.3 293.4,56.5 294.2,56.8 295.0,57.0 295.7,57.2 296.5,57.5 297.2,57.7 298.0,58.0 298.8,58.2 299.5,58.5 300.3,58.7 301.0,59.0 301.8,59.2 302.6,59.4 303.3,59.7 304.1,59.9 304.8,60.2 305.6,60.4 306.4,60.7 307.1,60.9 307.9,61.2 308.6,61.4 309.4,61.7 310.2,61.9 310.9,62.1 311.7,62.4 312.4,62.6 313.2,62.9 314.0,63.1 314.7,63.4 315.5,63.6 316.2,63.9 317.0,64.1 317.7,64.4 318.5,64.6 319.3,64.9 320.0,65.1 320.8,65.4 321.5,65.6 322.3,65.9 323.1,66.1 323.8,66.4 324.6,66.6 325.3,66.9 326.1,67.2 326.8,67.4 327.6,67.7 328.4,67.9 329.1,68.2 329.9,68.4 330.6,68.7 331.4,68.9 332.2,69.2 332.9,69.4 333.7,69.7 334.4,69.9 335.2,70.2 335.9,70.5 336.7,70.7 337.5,71.0 338.2,71.2 339.0,71.5 339.7,71.7 340.5,72.0 341.2,72.3 342.0,72.5 342.8,72.8 343.5,73.0 344.3,73.3 345.0,73.5 345.8,73.8 346.5,74.1 347.3,74.3 348.0,74.6 348.8,74.8 349.6,75.1 350.3,75.4 351.1,75.6 351.8,75.9 352.6,76.1 353.3,76.4 354.1,76.7 354.9,76.9 355.6,77.2 356.4,77.5 357.1,77.7 357.9,78.0 358.6,78.2 359.4,78.5 360.1,78.8 360.9,79.0 361.6,79.3 362.4,79.6 363.2,79.8 363.9,80.1 364.7,80.4 365.4,80.6 366.2,80.9 366.9,81.2 367.7,81.4 368.4,81.7 369.2,81.9 370.0,82.2 370.7,82.5 371.5,82.7 372.2,83.0 373.0,83.3 373.7,83.6 374.5,83.8 375.2,84.1 376.0,84.4 376.7,84.6 377.5,84.9 378.2,85.2 379.0,85.4 379.8,85.7 380.5,86.0 381.3,86.2 382.0,86.5 382.8,86.8 383.5,87.1 384.3,87.3 385.0,87.6 385.8,87.9 386.5,88.1 387.3,88.4 388.0,88.7 388.8,89.0 389.5,89.2 390.3,89.5 391.1,89.8 391.8,90.1 392.6,90.3 393.3,90.6 394.1,90.9 394.8,91.2 395.6,91.4 396.3,91.7 397.1,92.0 397.8,92.3 398.6,92.5 399.3,92.8 400.1,93.1 400.8,93.3 401.6,93.7 402.3,93.9 403.1,94.1 403.8,94.4 404.6,94.6 405.3,95.0 406.1,95.2 406.8,95.4 407.6,95.7 408.3,96.1 409.1,96.4 409.9,96.6 410.6,96.9 411.4,97.0 412.1,97.1 412.9,97.4 413.6,97.6 414.4,98.0 415.1,98.7 415.9,99.0 416.6,99.3 417.4,99.5 418.1,99.3 418.9,99.2 419.6,100.0 420.4,100.6 421.1,100.8 421.9,100.9 422.6,101.2 423.4,101.0 424.1,101.1 424.9,102.4 425.6,103.4 426.4,103.1 427.1,102.9 427.9,103.7 428.6,104.5 429.4,104.6 430.1,104.3 430.9,104.4 431.6,105.0 432.4,105.8 433.1,106.7 433.9,106.9 434.6,106.0 435.4,105.9 436.1,106.4 436.9,106.8 437.6,107.2 438.4,107.6 439.1,108.1 439.9,108.5 440.6,108.2 441.4,107.7 442.1,107.7 442.8,108.1 443.6,108.3 444.3,108.8 445.1,109.9 445.8,110.5 446.6,110.4 447.3,110.2 448.1,110.2 448.8,111.1 449.6,111.8 450.3,111.5 451.1,112.0 451.8,112.8 452.6,112.9 453.3,113.1 454.1,113.5 454.8,113.6 455.6,114.6 456.3,115.2 457.1,114.7 457.8,114.8 458.6,115.7 459.3,116.7 460.1,117.2 460.8,116.7 461.5,116.2 462.3,116.2 463.0,117.0 463.8,117.2 464.5,117.2 465.3,117.8 466.0,118.7 466.8,118.9 467.5,118.9 468.3,119.1 469.0,119.1 469.8,119.4 470.5,120.4 471.3,121.9 472.0,122.6 472.7,121.9 473.5,121.8 474.2,121.8 475.0,121.6 475.7,121.9 476.5,122.2 477.2,123.2 478.0,123.9 478.7,123.3 479.5,123.4 480.2,124.2 481.0,124.3 481.7,124.3 482.4,124.2 483.2,124.1 483.9,125.1 484.7,125.9 485.4,126.1 486.2,125.9 486.9,126.0 487.7,126.8 488.4,127.2 489.2,127.2 489.9,127.6 490.6,128.4 491.4,129.1 492.1,129.3 492.9,129.7 493.6,130.3 494.4,130.6 495.1,130.2 495.9,130.0 496.6,130.2 497.3,130.8 498.1,131.5 498.8,131.7 499.6,131.6 500.3,131.6 501.1,132.0 501.8,132.7 502.6,132.9 503.3,133.0 504.0,133.1 504.8,133.3 505.5,134.1 506.3,135.1 507.0,135.3 507.8,134.8 508.5,134.7 509.3,135.2 510.0,136.3 510.7,136.7 511.5,135.9 512.2,135.8 513.0,136.5 513.7,136.4 514.5,136.4 515.2,137.2 515.9,137.8 516.7,137.7 517.4,138.6 518.2,139.5 518.9,139.8 519.7,140.1 520.4,141.0 521.1,140.8 521.9,140.8 522.6,141.1 523.4,141.2 524.1,141.4 524.9,141.8 525.6,142.2 526.3,142.8 527.1,143.5 527.8,144.0 528.6,143.9 529.3,144.2 530.1,144.3 530.8,144.0 531.5,144.5 532.3,145.3 533.0,145.7 533.8,146.8 534.5,147.7 535.2,147.2 536.0,146.8 536.7,147.2 537.5,147.1 538.2,146.9 539.0,147.7 539.7,147.4 540.4,146.7 541.2,147.4 541.9,148.5 542.7,149.0 543.4,149.5 544.1,149.9 544.9,150.2 545.6,149.7 546.4,149.7 547.1,150.8 547.8,151.6 548.6,151.1 549.3,150.5 550.1,151.8 550.8,153.0 551.6,153.0 552.3,152.8 553.0,153.4 553.8,154.1 554.5,154.1 555.3,153.8 556.0,154.0 556.7,154.8 557.5,155.7 558.2,155.9 559.0,156.1 559.7,156.3 560.4,156.4 561.2,156.6 561.9,157.1 562.7,157.7 563.4,157.7 564.1,157.4 564.9,157.8 565.6,158.3 566.4,158.7 567.1,159.0 567.8,159.0 568.6,158.9 569.3,159.9 570.1,160.5 570.8,160.4 571.5,161.1 572.3,161.4 573.0,160.8 573.7,160.9 574.5,161.7 575.2,161.8 576.0,161.9 576.7,162.7 577.4,162.6 578.2,162.6 578.9,163.0 579.7,163.9 580.4,164.8 581.1,165.1 581.9,165.2 582.6,165.4 583.4,165.5 584.1,166.0 584.8,167.0 585.6,166.5 586.3,165.4 587.0,166.3 587.8,167.5 588.5,167.2 589.3,167.4 590.0,168.0 590.7,168.3 591.5,169.4 592.2,170.1 592.9,169.7 593.7,169.8 594.4,169.6 595.2,169.7 595.9,170.6 596.6,171.0 597.4,171.3 598.1,171.6 598.8,171.3 599.6,171.2 600.3,172.1 601.1,173.4 601.8,174.7 602.5,175.5 603.3,175.2 604.0,174.8 604.7,174.3 605.5,173.5 606.2,174.2 607.0,175.5 607.2,175.7" fill="none" stroke="#d8ae38" stroke-width="1.4" stroke-linejoin="round" />
<polyline points="76.8,100.7 76.9,99.9 77.1,99.2 77.2,98.4 77.3,97.6 77.5,96.9 77.6,96.1 77.8,95.3 77.9,94.5 78.1,93.8 78.2,93.0 78.4,92.2 78.5,91.4 78.7,90.6 78.9,89.9 79.1,89.1 79.2,88.3 79.4,87.5 79.6,86.7 79.8,85.9 80.0,85.2 80.2,84.4 80.4,83.6 80.6,82.8 80.8,82.0 81.0,81.3 81.2,80.5 81.4,79.7 81.6,78.9 81.9,78.1 82.1,77.4 82.3,76.6 82.6,75.8 82.8,75.0 83.1,74.3 83.3,73.5 83.6,72.7 83.8,72.0 84.1,71.2 84.4,70.4 84.6,69.7 84.9,68.9 85.2,68.1 85.5,67.4 85.8,66.6 86.1,65.9 86.4,65.1 86.7,64.4 87.0,63.6 87.3,62.9 87.6,62.1 87.9,61.4 88.3,60.7 88.6,59.9 88.9,59.2 89.3,58.5 89.6,57.8 90.0,57.0 90.3,56.3 90.7,55.6 91.1,54.9 91.5,54.2 91.8,53.5 92.2,52.8 92.6,52.1 93.0,51.4 93.4,50.8 93.8,50.1 94.2,49.4 94.7,48.7 95.1,48.1 95.5,47.4 95.9,46.7 96.4,46.1 96.8,45.4 97.3,44.8 97.7,44.1 98.2,43.5 98.7,42.9 99.2,42.2 99.6,41.6 100.1,41.0 100.6,40.4 101.1,39.8 101.6,39.2 102.2,38.5 102.7,37.9 103.2,37.4 103.7,36.8 104.3,36.2 104.8,35.6 105.4,35.0 105.9,34.4 106.5,33.9 107.1,33.3 107.7,32.8 108.2,32.2 108.8,31.7 109.4,31.1 110.0,30.6 110.6,30.0 111.3,29.5 111.9,29.0 112.5,28.5 113.2,28.0 113.8,27.5 114.5,27.0 115.1,26.5 115.8,26.0 116.4,25.5 117.1,25.1 117.8,24.6 118.5,24.2 119.1,23.7 119.8,23.3 120.5,22.9 121.2,22.5 121.9,22.1 122.6,21.7 123.3,21.3 124.0,20.9 124.8,20.6 125.5,20.2 126.2,19.9 126.9,19.6 127.7,19.2 128.4,18.9 129.1,18.7 129.9,18.4 130.6,18.1 131.4,17.9 132.1,17.7 132.9,17.4 133.6,17.2 134.4,17.0 135.1,16.9 135.9,16.7 136.6,16.6 137.4,16.4 138.2,16.3 138.9,16.2 139.7,16.2 140.5,16.1 141.2,16.1 142.0,16.0 142.8,16.0 143.5,16.0 144.3,16.0 145.1,16.1 145.8,16.1 146.6,16.2 147.4,16.3 148.1,16.4 148.9,16.6 149.7,16.7 150.4,16.9 151.2,17.1 152.0,17.3 152.7,17.5 153.5,17.7 154.3,18.0 155.0,18.2 155.8,18.5 156.6,18.8 157.3,19.1 158.1,19.4 158.8,19.7 159.6,20.0 160.4,20.3 161.1,20.6 161.9,20.9 162.7,21.3 163.4,21.6 164.2,21.9 164.9,22.3 165.7,22.6 166.5,22.9 167.2,23.3 168.0,23.6 168.7,23.9 169.5,24.2 170.3,24.5 171.0,24.8 171.8,25.1 172.5,25.4 173.3,25.7 174.1,25.9 174.8,26.2 175.6,26.5 176.4,26.7 177.1,27.0 177.9,27.3 178.6,27.5 179.4,27.8 180.2,28.0 180.9,28.2 181.7,28.5 182.5,28.7 183.2,28.9 184.0,29.2 184.8,29.4 185.5,29.6 186.3,29.9 187.0,30.1 187.8,30.3 188.6,30.5 189.3,30.8 190.1,31.0 190.9,31.2 191.6,31.4 192.4,31.7 193.1,31.9 193.9,32.1 194.7,32.4 195.4,32.6 196.2,32.8 196.9,33.0 197.7,33.3 198.5,33.5 199.2,33.7 200.0,34.0 200.8,34.2 201.5,34.4 202.3,34.7 203.0,34.9 203.8,35.1 204.6,35.4 205.3,35.6 206.1,35.8 206.8,36.1 207.6,36.3 208.4,36.5 209.1,36.8 209.9,37.0 210.6,37.2 211.4,37.5 212.2,37.7 212.9,37.9 213.7,38.2 214.4,38.4 215.2,38.7 216.0,38.9 216.7,39.1 217.5,39.4 218.2,39.6 219.0,39.9 219.7,40.1 220.5,40.3 221.3,40.6 222.0,40.8 222.8,41.1 223.5,41.3 224.3,41.6 225.1,41.8 225.8,42.0 226.6,42.3 227.3,42.5 228.1,42.8 228.8,43.0 229.6,43.3 230.4,43.5 231.1,43.8 231.9,44.0 232.6,44.3 233.4,44.5 234.1,44.8 234.9,45.0 235.7,45.3 236.4,45.5 237.2,45.8 237.9,46.0 238.7,46.3 239.4,46.5 240.2,46.8 240.9,47.0 241.7,47.3 242.5,47.5 243.2,47.8 244.0,48.0 244.7,48.3 245.5,48.5 246.2,48.8 247.0,49.0 247.7,49.3 248.5,49.6 249.3,49.8 250.0,50.1 250.8,50.3 251.5,50.6 252.3,50.8 253.0,51.1 253.8,51.4 254.5,51.6 255.3,51.9 256.0,52.1 256.8,52.4 257.6,52.6 258.3,52.9 259.1,53.2 259.8,53.4 260.6,53.7 261.3,53.9 262.1,54.2 262.8,54.5 263.6,54.7 264.3,55.0 265.1,55.3 265.8,55.5 266.6,55.8 267.4,56.0 268.1,56.3 268.9,56.6 269.6,56.8 270.4,57.1 271.1,57.4 271.9,57.6 272.6,57.9 273.4,58.2 274.1,58.4 274.9,58.7 275.6,59.0 276.4,59.2 277.1,59.5 277.9,59.8 278.6,60.0 279.4,60.3 280.1,60.6 280.9,60.8 281.6,61.1 282.4,61.4 283.1,61.7 283.9,61.9 284.6,62.2 285.4,62.5 286.1,62.7 286.9,63.0 287.6,63.3 288.4,63.6 289.1,63.8 289.9,64.1 290.7,64.4 291.4,64.6 292.2,64.9 292.9,65.2 293.7,65.5 294.4,65.7 295.2,66.0 295.9,66.3 296.7,66.6 297.4,66.8 298.2,67.1 298.9,67.4 299.7,67.7 300.4,67.9 301.1,68.2 301.9,68.5 302.6,68.8 303.4,69.1 304.1,69.3 304.9,69.6 305.6,69.9 306.4,70.2 307.1,70.5 307.9,70.7 308.6,71.0 309.4,71.3 310.1,71.6 310.9,71.8 311.6,72.1 312.4,72.4 313.1,72.7 313.9,73.0 314.6,73.3 315.4,73.5 316.1,73.8 316.9,74.1 317.6,74.4 318.4,74.7 319.1,74.9 319.9,75.2 320.6,75.5 321.4,75.8 322.1,76.1 322.9,76.4 323.6,76.7 324.3,76.9 325.1,77.2 325.8,77.5 326.6,77.8 327.3,78.1 328.1,78.4 328.8,78.6 329.6,78.9 330.3,79.2 331.1,79.5 331.8,79.8 332.6,80.1 333.3,80.4 334.1,80.7 334.8,80.9 335.6,81.2 336.3,81.5 337.0,81.8 337.8,82.1 338.5,82.4 339.3,82.7 340.0,83.0 340.8,83.3 341.5,83.5 342.3,83.8 343.0,84.1 343.8,84.4 344.5,84.7 345.3,85.0 346.0,85.3 346.7,85.6 347.5,85.9 348.2,86.2 349.0,86.5 349.7,86.7 350.5,87.0 351.2,87.3 352.0,87.6 352.7,87.9 353.5,88.2 354.2,88.5 354.9,88.8 355.7,89.1 356.4,89.4 357.2,89.7 357.9,90.0 358.7,90.3 359.4,90.6 360.2,90.9 360.9,91.1 361.6,91.4 362.4,91.7 363.1,92.0 363.9,92.3 364.6,92.6 365.4,92.9 366.1,93.2 366.9,93.5 367.6,93.8 368.3,94.1 369.1,94.4 369.8,94.7 370.6,95.0 371.3,95.3 372.1,95.6 372.8,95.9 373.6,96.2 374.3,96.5 375.0,96.8 375.8,97.1 376.5,97.4 377.3,97.7 378.0,98.0 378.8,98.3 379.5,98.6 380.2,98.9 381.0,99.2 381.7,99.5 382.5,99.8 383.2,100.1 384.0,100.4 384.7,100.7 385.4,101.0 386.2,101.3 386.9,101.6 387.7,101.9 388.4,102.2 389.2,102.5 389.9,102.8 390.6,103.1 391.4,103.3 392.1,103.6 392.9,104.0 393.6,104.3 394.4,104.5 395.1,104.7 395.8,105.1 396.6,105.5 397.3,105.8 398.1,106.0 398.8,106.5 399.6,106.8 400.3,107.0 401.0,107.3 401.8,107.6 402.5,108.0 403.3,108.2 404.0,108.3 404.8,108.6 405.5,109.1 406.2,109.4 407.0,109.7 407.7,110.0 408.5,110.2 409.2,110.2 409.9,110.6 410.7,111.3 411.4,111.8 412.2,111.9 412.9,111.9 413.7,112.1 414.4,112.4 415.1,112.7 415.9,113.1 416.6,113.6 417.4,114.3 418.1,114.9 418.9,115.1 419.6,115.3 420.3,115.5 421.1,116.1 421.8,116.6 422.6,116.2 423.3,116.2 424.0,116.9 424.8,117.2 425.5,117.3 426.3,117.8 427.0,118.3 427.7,118.8 428.5,118.8 429.2,118.6 430.0,118.5 430.7,118.6 431.5,119.5 432.2,120.2 432.9,120.2 433.7,120.9 434.4,121.8 435.2,122.2 435.9,122.6 436.6,122.8 437.4,122.9 438.1,122.4 438.9,122.7 439.6,123.6 440.3,123.9 441.1,123.7 441.8,124.1 442.6,125.0 443.3,125.3 444.0,125.2 444.8,125.3 445.5,125.7 446.3,126.1 447.0,126.4 447.7,126.8 448.5,126.8 449.2,126.9 450.0,127.6 450.7,128.1 451.5,128.9 452.2,129.2 452.9,128.9 453.7,129.3 454.4,129.7 455.2,129.9 455.9,130.2 456.6,130.2 457.4,130.3 458.1,130.8 458.9,131.5 459.6,132.2 460.3,132.2 461.1,132.0 461.8,132.4 462.6,132.7 463.3,133.4 464.0,134.4 464.8,134.6 465.5,134.2 466.3,134.0 467.0,134.8 467.7,135.5 468.5,135.0 469.2,134.4 470.0,134.6 470.7,135.4 471.4,136.5 472.2,136.6 472.9,136.7 473.7,137.6 474.4,138.1 475.1,138.0 475.9,138.0 476.6,138.6 477.4,138.9 478.1,138.4 478.8,139.0 479.6,140.4 480.3,140.7 481.1,140.4 481.8,140.1 482.5,140.5 483.3,141.5 484.0,142.2 484.8,142.1 485.5,142.1 486.2,143.4 487.0,144.3 487.7,143.8 488.5,143.3 489.2,143.4 489.9,143.9 490.7,144.9 491.4,145.2 492.2,144.7 492.9,144.7 493.6,145.3 494.4,145.5 495.1,145.7 495.9,145.9 496.6,146.6 497.3,147.0 498.1,147.7 498.8,148.2 499.6,148.3 500.3,148.3 501.0,148.7 501.8,148.8 502.5,148.8 503.3,148.7 504.0,149.3 504.7,150.2 505.5,150.9 506.2,151.0 506.9,150.7 507.7,151.0 508.4,151.6 509.2,152.0 509.9,152.6 510.6,153.1 511.4,153.1 512.1,153.1 512.9,153.8 513.6,154.3 514.3,154.8 515.1,155.6 515.8,155.6 516.6,155.2 517.3,155.5 518.0,156.1 518.8,156.4 519.5,156.4 520.3,157.1 521.0,157.9 521.7,157.5 522.5,156.9 523.2,157.3 524.0,157.5 524.7,158.1 525.4,158.7 526.2,158.7 526.9,159.1 527.7,159.8 528.4,160.0 529.1,160.1 529.9,160.5 530.6,160.9 531.4,161.3 532.1,161.6 532.8,162.1 533.6,162.9 534.3,163.0 535.1,162.9 535.8,163.1 536.5,163.4 537.3,164.0 538.0,164.4 538.8,163.8 539.5,163.8 540.2,164.6 541.0,165.2 541.7,166.3 542.5,167.8 543.2,168.1 543.9,167.1 544.7,166.3 545.4,166.3 546.2,166.7 546.9,167.1 547.6,167.6 548.4,168.5 549.1,168.6 549.9,167.8 550.6,167.9 551.3,169.1 552.1,168.9 552.8,168.4 553.6,169.2 554.3,170.8 555.0,172.0 555.8,172.5 556.5,172.9 557.3,173.4 558.0,173.2 558.7,172.4 559.5,172.4 560.2,172.9 561.0,173.2 561.7,173.6 562.4,174.3 563.2,175.0 563.9,174.9 564.7,174.7 565.4,174.5 566.2,174.8 566.9,175.8 567.6,176.2 568.4,176.7 569.1,177.1 569.9,176.7 570.6,177.3 571.3,178.1 572.1,177.8 572.8,178.4 573.6,179.3 574.3,179.6 575.0,179.7 575.8,179.9 576.5,180.0 577.3,180.4 578.0,180.1 578.7,180.1 579.5,180.3 580.2,181.2 581.0,182.0 581.7,182.5 582.5,182.6 583.2,182.9 583.9,183.0 584.7,183.1 585.4,183.3 586.2,183.4 586.9,183.3 587.6,184.0 588.4,185.1 589.1,185.2 589.9,184.4 590.6,184.7 591.3,185.3 592.1,185.7 592.8,186.3 593.6,187.0 594.3,186.7 595.1,186.2 595.8,187.2 596.5,188.2 597.3,188.4 598.0,188.2 598.8,187.8 599.5,188.2 600.2,189.1 601.0,189.3 601.7,188.9 602.5,189.3 603.2,189.8 604.0,189.9 604.7,190.2 605.4,190.8 606.2,190.7 606.9,191.0 607.2,191.8" fill="none" stroke="#9cc04c" stroke-width="1.4" stroke-linejoin="round" />
<polyline points="86.8,99.0 87.0,98.2 87.2,97.5 87.5,96.7 87.7,96.0 87.9,95.2 88.1,94.4 88.3,93.7 88.5,92.9 88.8,92.1 89.0,91.4 89.2,90.6 89.4,89.8 89.6,89.1 89.9,88.3 90.1,87.5 90.3,86.8 90.5,86.0 90.8,85.2 91.0,84.5 91.2,83.7 91.4,82.9 91.7,82.2 91.9,81.4 92.1,80.6 92.4,79.9 92.6,79.1 92.9,78.4 93.1,77.6 93.4,76.8 93.6,76.1 93.9,75.3 94.2,74.5 94.4,73.8 94.7,73.0 95.0,72.3 95.2,71.5 95.5,70.8 95.8,70.0 96.1,69.3 96.4,68.5 96.7,67.8 97.0,67.0 97.3,66.3 97.6,65.6 98.0,64.8 98.3,64.1 98.6,63.4 98.9,62.6 99.3,61.9 99.6,61.2 100.0,60.5 100.4,59.7 100.7,59.0 101.1,58.3 101.5,57.6 101.9,56.9 102.3,56.2 102.7,55.5 103.1,54.8 103.5,54.1 103.9,53.4 104.3,52.7 104.8,52.1 105.2,51.4 105.7,50.7 106.1,50.0 106.6,49.4 107.1,48.7 107.6,48.1 108.0,47.4 108.5,46.8 109.0,46.1 109.5,45.5 110.1,44.9 110.6,44.3 111.1,43.7 111.6,43.0 112.2,42.4 112.7,41.9 113.3,41.3 113.8,40.7 114.4,40.1 115.0,39.6 115.6,39.0 116.1,38.4 116.7,37.9 117.3,37.4 117.9,36.8 118.5,36.3 119.2,35.8 119.8,35.3 120.4,34.8 121.1,34.4 121.7,33.9 122.3,33.4 123.0,33.0 123.6,32.5 124.3,32.1 125.0,31.7 125.7,31.3 126.3,30.9 127.0,30.5 127.7,30.1 128.4,29.7 129.1,29.4 129.8,29.0 130.5,28.7 131.2,28.3 132.0,28.0 132.7,27.7 133.4,27.4 134.2,27.1 134.9,26.8 135.6,26.6 136.4,26.3 137.1,26.0 137.9,25.8 138.6,25.6 139.4,25.4 140.1,25.2 140.9,25.0 141.6,24.8 142.4,24.7 143.2,24.6 143.9,24.5 144.7,24.4 145.5,24.3 146.2,24.3 147.0,24.3 147.8,24.3 148.6,24.3 149.3,24.4 150.1,24.5 150.9,24.6 151.7,24.8 152.4,24.9 153.2,25.1 154.0,25.3 154.8,25.5 155.5,25.7 156.3,25.9 157.1,26.1 157.9,26.3 158.6,26.5 159.4,26.8 160.2,27.0 160.9,27.3 161.7,27.5 162.5,27.8 163.2,28.1 164.0,28.4 164.8,28.6 165.5,28.9 166.3,29.2 167.1,29.5 167.8,29.8 168.6,30.1 169.4,30.4 170.1,30.7 170.9,31.0 171.7,31.3 172.4,31.6 173.2,31.9 174.0,32.2 174.7,32.5 175.5,32.8 176.2,33.1 177.0,33.4 177.8,33.7 178.5,34.0 179.3,34.3 180.0,34.5 180.8,34.8 181.6,35.1 182.3,35.4 183.1,35.7 183.8,36.0 184.6,36.3 185.3,36.6 186.1,36.9 186.9,37.2 187.6,37.4 188.4,37.7 189.1,38.0 189.9,38.3 190.6,38.6 191.4,38.9 192.1,39.1 192.9,39.4 193.6,39.7 194.4,40.0 195.2,40.3 195.9,40.5 196.7,40.8 197.4,41.1 198.2,41.4 198.9,41.7 199.7,41.9 200.4,42.2 201.2,42.5 201.9,42.8 202.7,43.1 203.4,43.3 204.2,43.6 204.9,43.9 205.7,44.2 206.4,44.4 207.2,44.7 207.9,45.0 208.7,45.3 209.4,45.5 210.2,45.8 210.9,46.1 211.7,46.3 212.4,46.6 213.2,46.9 213.9,47.2 214.6,47.4 215.4,47.7 216.1,48.0 216.9,48.3 217.6,48.5 218.4,48.8 219.1,49.1 219.9,49.4 220.6,49.6 221.4,49.9 222.1,50.2 222.9,50.4 223.6,50.7 224.3,51.0 225.1,51.3 225.8,51.5 226.6,51.8 227.3,52.1 228.1,52.4 228.8,52.6 229.6,52.9 230.3,53.2 231.1,53.5 231.8,53.7 232.5,54.0 233.3,54.3 234.0,54.6 234.8,54.8 235.5,55.1 236.3,55.4 237.0,55.7 237.8,56.0 238.5,56.2 239.3,56.5 240.0,56.8 240.7,57.1 241.5,57.3 242.2,57.6 243.0,57.9 243.7,58.2 244.5,58.5 245.2,58.7 246.0,59.0 246.7,59.3 247.4,59.6 248.2,59.9 248.9,60.2 249.7,60.4 250.4,60.7 251.2,61.0 251.9,61.3 252.6,61.6 253.4,61.8 254.1,62.1 254.9,62.4 255.6,62.7 256.4,63.0 257.1,63.3 257.9,63.5 258.6,63.8 259.3,64.1 260.1,64.4 260.8,64.7 261.6,65.0 262.3,65.3 263.1,65.5 263.8,65.8 264.5,66.1 265.3,66.4 266.0,66.7 266.8,67.0 267.5,67.3 268.3,67.6 269.0,67.8 269.7,68.1 270.5,68.4 271.2,68.7 272.0,69.0 272.7,69.3 273.5,69.6 274.2,69.9 274.9,70.1 275.7,70.4 276.4,70.7 277.2,71.0 277.9,71.3 278.7,71.6 279.4,71.9 280.1,72.2 280.9,72.5 281.6,72.8 282.4,73.0 283.1,73.3 283.9,73.6 284.6,73.9 285.3,74.2 286.1,74.5 286.8,74.8 287.6,75.1 288.3,75.4 289.0,75.7 289.8,76.0 290.5,76.3 291.3,76.6 292.0,76.8 292.8,77.1 293.5,77.4 294.2,77.7 295.0,78.0 295.7,78.3 296.5,78.6 297.2,78.9 297.9,79.2 298.7,79.5 299.4,79.8 300.2,80.1 300.9,80.4 301.7,80.7 302.4,81.0 303.1,81.3 303.9,81.6 304.6,81.9 305.4,82.2 306.1,82.5 306.8,82.8 307.6,83.0 308.3,83.3 309.1,83.6 309.8,83.9 310.6,84.2 311.3,84.5 312.0,84.8 312.8,85.1 313.5,85.4 314.3,85.7 315.0,86.0 315.7,86.3 316.5,86.6 317.2,86.9 318.0,87.2 318.7,87.5 319.4,87.8 320.2,88.1 320.9,88.4 321.7,88.7 322.4,89.0 323.1,89.3 323.9,89.6 324.6,89.9 325.4,90.2 326.1,90.5 326.9,90.8 327.6,91.1 328.3,91.4 329.1,91.7 329.8,92.0 330.6,92.3 331.3,92.6 332.0,92.9 332.8,93.2 333.5,93.5 334.3,93.8 335.0,94.1 335.7,94.4 336.5,94.7 337.2,95.0 338.0,95.3 338.7,95.6 339.4,96.0 340.2,96.3 340.9,96.6 341.7,96.9 342.4,97.2 343.1,97.5 343.9,97.8 344.6,98.1 345.4,98.4 346.1,98.7 346.8,99.0 347.6,99.3 348.3,99.6 349.1,99.9 349.8,100.2 350.5,100.5 351.3,100.8 352.0,101.1 352.8,101.4 353.5,101.7 354.2,102.0 355.0,102.3 355.7,102.6 356.5,102.9 357.2,103.2 357.9,103.6 358.7,103.9 359.4,104.2 360.2,104.5 360.9,104.8 361.6,105.1 362.4,105.4 363.1,105.7 363.9,106.0 364.6,106.3 365.3,106.6 366.1,106.9 366.8,107.2 367.6,107.5 368.3,107.8 369.0,108.1 369.8,108.4 370.5,108.8 371.3,109.1 372.0,109.4 372.7,109.7 373.5,110.0 374.2,110.3 375.0,110.6 375.7,110.9 376.4,111.2 377.2,111.5 377.9,111.8 378.7,112.1 379.4,112.4 380.1,112.7 380.9,113.0 381.6,113.4 382.4,113.7 383.1,114.0 383.8,114.3 384.6,114.6 385.3,114.9 386.1,115.3 386.8,115.6 387.5,115.9 388.3,116.2 389.0,116.5 389.8,116.7 390.5,117.0 391.2,117.3 392.0,117.6 392.7,117.8 393.4,118.2 394.2,118.6 394.9,118.9 395.7,119.2 396.4,119.5 397.1,119.9 397.9,120.2 398.6,120.3 399.4,120.5 400.1,120.9 400.8,121.4 401.6,121.7 402.3,122.0 403.1,122.3 403.8,122.6 404.5,123.1 405.3,123.4 406.0,123.7 406.8,124.2 407.5,124.2 408.2,124.3 409.0,124.8 409.7,125.2 410.5,125.5 411.2,125.9 411.9,126.1 412.7,126.1 413.4,126.1 414.2,126.6 414.9,127.1 415.6,127.2 416.4,127.3 417.1,127.4 417.9,127.6 418.6,128.3 419.3,128.9 420.1,129.0 420.8,129.5 421.6,130.5 422.3,131.0 423.0,131.3 423.8,131.7 424.5,131.9 425.3,132.1 426.0,132.2 426.7,132.0 427.5,132.2 428.2,133.0 428.9,133.6 429.7,133.3 430.4,133.4 431.2,134.2 431.9,135.0 432.6,135.1 433.4,134.8 434.1,135.1 434.9,135.6 435.6,135.6 436.3,135.7 437.1,136.5 437.8,137.0 438.6,137.4 439.3,137.5 440.0,137.8 440.8,138.2 441.5,138.2 442.3,138.5 443.0,139.2 443.7,139.3 444.5,139.6 445.2,140.0 446.0,140.1 446.7,140.5 447.4,141.3 448.2,141.8 448.9,142.3 449.7,142.5 450.4,142.3 451.1,142.4 451.9,143.3 452.6,143.7 453.4,143.5 454.1,143.6 454.8,143.6 455.6,143.8 456.3,144.6 457.1,145.1 457.8,145.4 458.5,146.3 459.3,146.4 460.0,146.0 460.8,145.6 461.5,145.9 462.2,146.5 463.0,147.4 463.7,147.8 464.5,148.0 465.2,148.1 466.0,148.2 466.7,148.6 467.4,149.3 468.2,149.7 468.9,150.0 469.7,150.1 470.4,150.5 471.1,151.0 471.9,151.0 472.6,151.5 473.4,152.4 474.1,152.5 474.8,152.5 475.6,152.6 476.3,152.9 477.1,153.7 477.8,154.0 478.5,153.8 479.3,153.6 480.0,154.4 480.8,155.3 481.5,155.4 482.2,155.6 483.0,156.0 483.7,156.3 484.5,156.6 485.2,157.1 486.0,157.1 486.7,156.9 487.4,157.1 488.2,157.2 488.9,157.2 489.7,157.7 490.4,157.9 491.1,157.9 491.9,157.8 492.6,158.4 493.4,159.3 494.1,159.7 494.8,159.8 495.6,160.0 496.3,160.6 497.1,161.6 497.8,161.7 498.6,162.2 499.3,162.5 500.0,161.8 500.8,161.5 501.5,162.2 502.3,162.8 503.0,163.2 503.7,163.8 504.5,164.0 505.2,164.1 506.0,164.6 506.7,165.1 507.5,165.8 508.2,166.6 508.9,167.2 509.7,167.1 510.4,166.9 511.2,167.1 511.9,167.3 512.6,167.1 513.4,167.4 514.1,168.6 514.9,169.2 515.6,168.9 516.4,168.8 517.1,169.3 517.8,170.2 518.6,170.4 519.3,170.0 520.1,170.1 520.8,170.5 521.6,171.0 522.3,171.7 523.0,172.1 523.8,171.8 524.5,171.9 525.3,172.7 526.0,173.1 526.7,173.1 527.5,173.6 528.2,174.2 529.0,174.6 529.7,174.7 530.5,175.0 531.2,175.1 531.9,175.2 532.7,175.8 533.4,176.4 534.2,176.6 534.9,176.2 535.7,176.5 536.4,176.8 537.2,176.9 537.9,177.3 538.6,177.7 539.4,178.0 540.1,178.0 540.9,177.9 541.6,178.9 542.4,179.7 543.1,180.5 543.8,180.9 544.6,181.1 545.3,180.7 546.1,180.5 546.8,181.9 547.6,183.6 548.3,183.7 549.0,183.0 549.8,182.4 550.5,182.6 551.3,183.0 552.0,183.6 552.8,184.0 553.5,183.8 554.3,184.2 555.0,184.9 555.7,184.5 556.5,184.3 557.2,185.7 558.0,186.5 558.7,186.5 559.5,186.7 560.2,186.6 561.0,186.4 561.7,186.7 562.4,186.6 563.2,186.9 563.9,187.4 564.7,188.2 565.4,188.8 566.2,188.8 566.9,188.8 567.7,188.5 568.4,189.0 569.2,190.3 569.9,191.1 570.6,191.4 571.4,191.3 572.1,190.7 572.9,190.6 573.6,190.7 574.4,191.7 575.1,192.5 575.9,192.5 576.6,192.7 577.4,193.5 578.1,193.9 578.8,194.0 579.6,194.0 580.3,194.4 581.1,194.8 581.8,195.4 582.6,195.7 583.3,195.5 584.1,195.3 584.8,196.0 585.6,196.6 586.3,196.8 587.0,197.1 587.8,197.6 588.5,198.2 589.3,198.5 590.0,198.6 590.8,199.1 591.5,199.4 592.3,199.5 593.0,199.8 593.8,200.0 594.5,200.0 595.3,199.8 596.0,199.8 596.8,200.5 597.5,200.8 598.3,200.9 599.0,201.7 599.7,201.7 600.5,201.5 601.2,202.0 602.0,202.5 602.7,202.7 603.5,202.8 604.2,203.0 605.0,203.1 605.7,203.7 606.5,204.3 607.2,204.4" fill="none" stroke="#62ad80" stroke-width="1.4" stroke-linejoin="round" />
<polyline points="99.1,111.8 99.3,111.0 99.4,110.2 99.5,109.4 99.7,108.7 99.8,107.9 100.0,107.1 100.1,106.3 100.3,105.5 100.5,104.8 100.6,104.0 100.8,103.2 101.0,102.4 101.2,101.6 101.4,100.9 101.5,100.1 101.7,99.3 101.9,98.5 102.1,97.8 102.3,97.0 102.5,96.2 102.8,95.5 103.0,94.7 103.2,93.9 103.4,93.2 103.7,92.4 103.9,91.6 104.1,90.9 104.4,90.1 104.6,89.4 104.9,88.6 105.1,87.9 105.4,87.1 105.7,86.3 105.9,85.6 106.2,84.8 106.5,84.1 106.8,83.3 107.1,82.6 107.4,81.9 107.7,81.1 108.0,80.4 108.3,79.6 108.6,78.9 109.0,78.2 109.3,77.4 109.6,76.7 110.0,76.0 110.3,75.3 110.7,74.5 111.0,73.8 111.4,73.1 111.7,72.4 112.1,71.6 112.5,70.9 112.9,70.2 113.3,69.5 113.7,68.8 114.1,68.1 114.5,67.4 114.9,66.7 115.3,66.0 115.8,65.3 116.2,64.6 116.6,64.0 117.1,63.3 117.5,62.6 118.0,61.9 118.4,61.3 118.9,60.6 119.4,60.0 119.9,59.3 120.4,58.7 120.9,58.0 121.4,57.4 121.9,56.8 122.4,56.2 122.9,55.5 123.5,54.9 124.0,54.3 124.5,53.7 125.1,53.1 125.6,52.6 126.2,52.0 126.8,51.4 127.4,50.8 128.0,50.3 128.5,49.7 129.1,49.2 129.8,48.7 130.4,48.1 131.0,47.6 131.6,47.1 132.3,46.6 132.9,46.1 133.6,45.6 134.2,45.2 134.9,44.7 135.6,44.3 136.2,43.8 136.9,43.4 137.6,43.0 138.3,42.6 139.0,42.2 139.7,41.8 140.4,41.5 141.1,41.1 141.8,40.8 142.5,40.5 143.3,40.2 144.0,39.9 144.7,39.7 145.5,39.5 146.2,39.2 147.0,39.0 147.7,38.9 148.4,38.7 149.2,38.6 150.0,38.4 150.7,38.3 151.5,38.3 152.2,38.2 153.0,38.2 153.8,38.2 154.5,38.2 155.3,38.2 156.1,38.2 156.8,38.3 157.6,38.3 158.4,38.4 159.2,38.5 159.9,38.6 160.7,38.7 161.5,38.9 162.2,39.0 163.0,39.2 163.8,39.3 164.6,39.5 165.3,39.7 166.1,39.9 166.9,40.1 167.6,40.3 168.4,40.6 169.2,40.8 169.9,41.0 170.7,41.3 171.5,41.5 172.2,41.8 173.0,42.0 173.8,42.3 174.5,42.6 175.3,42.9 176.0,43.2 176.8,43.4 177.6,43.7 178.3,44.0 179.1,44.3 179.8,44.6 180.6,44.9 181.3,45.2 182.1,45.5 182.8,45.8 183.6,46.1 184.4,46.4 185.1,46.7 185.9,47.1 186.6,47.4 187.4,47.7 188.1,48.0 188.9,48.3 189.6,48.6 190.4,48.9 191.1,49.2 191.9,49.5 192.6,49.8 193.4,50.1 194.1,50.4 194.9,50.7 195.6,51.0 196.3,51.3 197.1,51.7 197.8,52.0 198.6,52.3 199.3,52.6 200.1,52.9 200.8,53.2 201.6,53.5 202.3,53.8 203.0,54.1 203.8,54.4 204.5,54.7 205.3,55.0 206.0,55.3 206.8,55.7 207.5,56.0 208.2,56.3 209.0,56.6 209.7,56.9 210.5,57.2 211.2,57.5 211.9,57.8 212.7,58.1 213.4,58.4 214.2,58.7 214.9,59.0 215.6,59.4 216.4,59.7 217.1,60.0 217.8,60.3 218.6,60.6 219.3,60.9 220.1,61.2 220.8,61.5 221.5,61.8 222.3,62.1 223.0,62.5 223.7,62.8 224.5,63.1 225.2,63.4 226.0,63.7 226.7,64.0 227.4,64.3 228.2,64.6 228.9,64.9 229.6,65.2 230.4,65.5 231.1,65.9 231.8,66.2 232.6,66.5 233.3,66.8 234.1,67.1 234.8,67.4 235.5,67.7 236.3,68.0 237.0,68.3 237.7,68.7 238.5,69.0 239.2,69.3 239.9,69.6 240.7,69.9 241.4,70.2 242.2,70.5 242.9,70.8 243.6,71.1 244.4,71.4 245.1,71.8 245.8,72.1 246.6,72.4 247.3,72.7 248.0,73.0 248.8,73.3 249.5,73.6 250.3,73.9 251.0,74.2 251.7,74.6 252.5,74.9 253.2,75.2 253.9,75.5 254.7,75.8 255.4,76.1 256.1,76.4 256.9,76.7 257.6,77.0 258.4,77.4 259.1,77.7 259.8,78.0 260.6,78.3 261.3,78.6 262.0,78.9 262.8,79.2 263.5,79.5 264.2,79.9 265.0,80.2 265.7,80.5 266.4,80.8 267.2,81.1 267.9,81.4 268.7,81.7 269.4,82.0 270.1,82.3 270.9,82.7 271.6,83.0 272.3,83.3 273.1,83.6 273.8,83.9 274.5,84.2 275.3,84.5 276.0,84.8 276.8,85.2 277.5,85.5 278.2,85.8 279.0,86.1 279.7,86.4 280.4,86.7 281.2,87.0 281.9,87.3 282.6,87.7 283.4,88.0 284.1,88.3 284.8,88.6 285.6,88.9 286.3,89.2 287.1,89.5 287.8,89.8 288.5,90.2 289.3,90.5 290.0,90.8 290.7,91.1 291.5,91.4 292.2,91.7 292.9,92.0 293.7,92.3 294.4,92.7 295.1,93.0 295.9,93.3 296.6,93.6 297.4,94.0 298.1,94.3 298.8,94.6 299.6,94.8 300.3,95.2 301.0,95.6 301.8,95.9 302.5,96.1 303.2,96.3 304.0,96.5 304.7,96.8 305.4,97.2 306.2,97.6 306.9,98.0 307.7,98.3 308.4,98.7 309.1,99.1 309.9,99.3 310.6,99.7 311.3,100.3 312.1,100.5 312.8,100.6 313.5,100.8 314.3,101.3 315.0,101.5 315.7,101.4 316.5,101.9 317.2,102.5 317.9,102.7 318.7,102.9 319.4,103.4 320.2,104.1 320.9,104.3 321.6,104.2 322.4,104.4 323.1,104.8 323.8,104.9 324.6,104.9 325.3,105.5 326.0,106.3 326.8,106.5 327.5,106.5 328.2,106.6 329.0,107.0 329.7,107.6 330.5,108.4 331.2,108.9 331.9,108.8 332.7,108.4 333.4,109.0 334.1,109.7 334.9,110.3 335.6,110.4 336.3,110.4 337.1,110.8 337.8,111.3 338.5,111.4 339.3,111.5 340.0,112.0 340.8,112.7 341.5,113.2 342.2,113.1 343.0,113.0 343.7,113.4 344.4,113.8 345.2,114.2 345.9,114.5 346.6,114.4 347.4,114.5 348.1,115.2 348.8,115.8 349.6,115.9 350.3,116.4 351.1,116.9 351.8,116.6 352.5,116.5 353.3,117.0 354.0,118.0 354.7,118.5 355.5,118.5 356.2,118.6 356.9,118.9 357.7,119.1 358.4,119.7 359.1,120.2 359.9,120.7 360.6,121.1 361.4,120.9 362.1,121.1 362.8,122.0 363.6,122.4 364.3,122.2 365.0,122.4 365.8,123.0 366.5,123.4 367.2,123.7 368.0,124.5 368.7,125.1 369.4,124.8 370.2,125.0 370.9,125.6 371.7,125.6 372.4,126.1 373.1,126.3 373.9,126.2 374.6,126.9 375.3,127.5 376.1,127.2 376.8,126.9 377.5,127.9 378.3,128.7 379.0,128.8 379.7,128.9 380.5,129.0 381.2,129.1 382.0,129.5 382.7,130.0 383.4,130.5 384.2,130.5 384.9,130.7 385.6,131.1 386.4,131.6 387.1,131.8 387.8,132.0 388.6,132.4 389.3,133.3 390.1,134.0 390.8,134.1 391.5,134.0 392.3,134.1 393.0,134.5 393.7,135.2 394.5,135.4 395.2,135.8 395.9,136.1 396.7,136.2 397.4,136.7 398.1,137.2 398.9,137.1 399.6,137.2 400.4,137.4 401.1,137.5 401.8,138.1 402.6,138.6 403.3,138.8 404.0,139.1 404.8,139.0 405.5,139.3 406.2,139.6 407.0,140.2 407.7,140.8 408.5,141.3 409.2,141.5 409.9,141.9 410.7,142.4 411.4,142.8 412.1,143.3 412.9,143.9 413.6,143.8 414.3,143.5 415.1,143.6 415.8,143.9 416.6,144.1 417.3,144.5 418.0,145.1 418.8,145.5 419.5,145.5 420.2,145.4 421.0,145.4 421.7,146.0 422.4,146.8 423.2,147.7 423.9,148.2 424.7,148.4 425.4,148.2 426.1,148.6 426.9,149.3 427.6,149.6 428.3,149.5 429.1,149.8 429.8,150.5 430.6,150.5 431.3,150.4 432.0,151.1 432.8,151.5 433.5,151.6 434.2,151.6 435.0,152.0 435.7,152.6 436.4,152.5 437.2,152.4 437.9,152.5 438.7,152.8 439.4,153.6 440.1,154.2 440.9,154.7 441.6,155.2 442.3,155.7 443.1,156.3 443.8,156.4 444.6,156.6 445.3,156.7 446.0,156.8 446.8,157.1 447.5,157.9 448.2,158.6 449.0,158.9 449.7,158.6 450.5,158.6 451.2,159.0 451.9,159.5 452.7,159.4 453.4,159.5 454.1,160.1 454.9,160.8 455.6,161.0 456.4,161.2 457.1,161.7 457.8,162.4 458.6,162.8 459.3,162.8 460.0,162.8 460.8,163.3 461.5,163.8 462.3,164.0 463.0,164.5 463.7,164.9 464.5,164.6 465.2,164.6 465.9,165.3 466.7,166.3 467.4,166.3 468.2,166.1 468.9,166.7 469.6,167.1 470.4,167.0 471.1,166.9 471.8,167.3 472.6,168.0 473.3,168.5 474.1,168.4 474.8,168.4 475.5,168.9 476.3,169.7 477.0,170.3 477.7,170.5 478.5,170.8 479.2,171.0 480.0,171.1 480.7,171.5 481.4,171.7 482.2,172.1 482.9,172.5 483.7,172.5 484.4,173.0 485.1,173.7 485.9,173.9 486.6,174.3 487.3,174.6 488.1,174.9 488.8,175.5 489.6,176.0 490.3,176.0 491.0,175.8 491.8,175.8 492.5,176.0 493.3,176.6 494.0,177.4 494.7,177.8 495.5,177.8 496.2,178.3 496.9,178.8 497.7,179.1 498.4,179.2 499.2,179.3 499.9,179.6 500.6,180.3 501.4,180.8 502.1,181.0 502.9,181.5 503.6,181.8 504.3,181.7 505.1,182.0 505.8,182.3 506.5,182.0 507.3,182.3 508.0,183.2 508.8,183.6 509.5,183.4 510.2,183.6 511.0,184.5 511.7,185.0 512.5,184.8 513.2,185.1 513.9,186.0 514.7,186.0 515.4,185.7 516.2,185.8 516.9,186.7 517.6,187.4 518.4,187.8 519.1,187.5 519.9,187.8 520.6,188.6 521.3,189.0 522.1,189.4 522.8,189.9 523.6,189.8 524.3,189.7 525.0,189.5 525.8,189.6 526.5,189.8 527.3,190.3 528.0,190.7 528.7,191.3 529.5,192.4 530.2,192.6 531.0,191.7 531.7,191.8 532.4,192.9 533.2,193.3 533.9,193.4 534.7,193.7 535.4,194.2 536.1,194.5 536.9,195.2 537.6,195.9 538.4,196.4 539.1,196.7 539.8,196.6 540.6,196.4 541.3,196.3 542.1,196.6 542.8,197.4 543.5,198.4 544.3,198.9 545.0,198.5 545.8,198.3 546.5,198.6 547.2,198.9 548.0,199.2 548.7,199.8 549.5,200.2 550.2,200.8 550.9,201.0 551.7,200.7 552.4,201.0 553.2,201.5 553.9,201.3 554.7,201.2 555.4,201.6 556.1,202.6 556.9,203.4 557.6,203.3 558.4,202.8 559.1,203.0 559.8,204.1 560.6,204.7 561.3,204.7 562.1,204.9 562.8,205.5 563.5,205.9 564.3,206.0 565.0,206.1 565.8,206.2 566.5,206.1 567.3,206.6 568.0,207.1 568.7,207.5 569.5,207.9 570.2,208.6 571.0,208.5 571.7,208.5 572.5,209.4 573.2,210.2 573.9,210.6 574.7,210.9 575.4,211.1 576.2,210.7 576.9,210.1 577.6,210.6 578.4,211.2 579.1,211.9 579.9,212.4 580.6,212.6 581.4,212.9 582.1,213.0 582.8,213.3 583.6,213.5 584.3,213.4 585.1,213.9 585.8,214.8 586.6,215.5 587.3,215.3 588.0,215.4 588.8,215.8 589.5,215.9 590.3,216.4 591.0,216.6 591.8,216.6 592.5,217.0 593.2,217.9 594.0,218.1 594.7,218.2 595.5,218.9 596.2,218.9 597.0,218.5 597.7,218.8 598.4,219.3 599.2,219.8 599.9,220.0 600.7,219.9 601.4,220.1 602.2,220.9 602.9,221.6 603.6,222.2 604.4,223.4 605.1,223.7 605.9,223.0 606.6,222.8 607.2,223.2" fill="none" stroke="#4286c8" stroke-width="1.4" stroke-linejoin="round" />
<polyline points="118.8,113.2 119.0,112.4 119.2,111.7 119.5,110.9 119.7,110.2 119.9,109.4 120.1,108.6 120.3,107.9 120.6,107.1 120.8,106.3 121.0,105.6 121.2,104.8 121.5,104.0 121.7,103.3 122.0,102.5 122.2,101.7 122.5,101.0 122.7,100.2 123.0,99.5 123.2,98.7 123.5,97.9 123.8,97.2 124.1,96.4 124.3,95.7 124.6,94.9 124.9,94.2 125.2,93.4 125.5,92.7 125.9,92.0 126.2,91.2 126.5,90.5 126.9,89.8 127.2,89.0 127.6,88.3 127.9,87.6 128.3,86.9 128.7,86.2 129.1,85.5 129.5,84.8 129.9,84.1 130.3,83.4 130.7,82.7 131.1,82.1 131.6,81.4 132.0,80.7 132.5,80.1 133.0,79.4 133.4,78.8 133.9,78.2 134.4,77.5 134.9,76.9 135.4,76.3 135.9,75.7 136.5,75.1 137.0,74.5 137.6,73.9 138.1,73.3 138.7,72.7 139.3,72.2 139.8,71.6 140.4,71.1 141.0,70.5 141.7,70.0 142.3,69.5 142.9,68.9 143.5,68.4 144.2,67.9 144.9,67.4 145.5,66.9 146.2,66.5 146.9,66.0 147.6,65.6 148.3,65.1 149.0,64.7 149.7,64.3 150.4,63.9 151.1,63.5 151.9,63.1 152.6,62.8 153.3,62.4 154.1,62.1 154.8,61.8 155.6,61.5 156.3,61.3 157.1,61.0 157.8,60.8 158.6,60.6 159.4,60.4 160.1,60.3 160.9,60.2 161.7,60.1 162.4,60.0 163.2,60.0 164.0,59.9 164.7,59.9 165.5,60.0 166.2,60.0 167.0,60.1 167.7,60.3 168.5,60.4 169.3,60.5 170.0,60.7 170.8,60.9 171.5,61.1 172.3,61.4 173.0,61.6 173.8,61.9 174.5,62.1 175.3,62.4 176.0,62.7 176.8,63.0 177.5,63.3 178.2,63.6 179.0,63.9 179.7,64.2 180.5,64.5 181.2,64.8 182.0,65.1 182.7,65.4 183.5,65.7 184.2,66.0 185.0,66.3 185.7,66.6 186.4,66.9 187.2,67.2 187.9,67.5 188.7,67.8 189.4,68.1 190.2,68.4 190.9,68.8 191.7,69.1 192.4,69.4 193.1,69.7 193.9,70.0 194.6,70.3 195.4,70.6 196.1,70.9 196.9,71.2 197.6,71.5 198.4,71.8 199.1,72.1 199.8,72.4 200.6,72.7 201.3,73.1 202.1,73.4 202.8,73.7 203.6,74.0 204.3,74.3 205.0,74.6 205.8,74.9 206.5,75.2 207.3,75.5 208.0,75.8 208.8,76.1 209.5,76.4 210.2,76.7 211.0,77.1 211.7,77.4 212.5,77.7 213.2,78.0 213.9,78.3 214.7,78.6 215.4,78.9 216.2,79.2 216.9,79.5 217.7,79.8 218.4,80.2 219.1,80.5 219.9,80.8 220.6,81.1 221.4,81.4 222.1,81.7 222.8,82.0 223.6,82.3 224.3,82.6 225.1,82.9 225.8,83.3 226.5,83.6 227.3,83.9 228.0,84.2 228.8,84.5 229.5,84.8 230.2,85.1 231.0,85.4 231.7,85.7 232.5,86.1 233.2,86.4 233.9,86.7 234.7,87.0 235.4,87.3 236.2,87.6 236.9,87.9 237.6,88.2 238.4,88.5 239.1,88.9 239.9,89.2 240.6,89.5 241.3,89.8 242.1,90.1 242.8,90.4 243.6,90.7 244.3,91.0 245.0,91.4 245.8,91.7 246.5,92.0 247.2,92.3 248.0,92.6 248.7,92.9 249.5,93.2 250.2,93.5 250.9,93.9 251.7,94.2 252.4,94.5 253.2,94.8 253.9,95.1 254.6,95.4 255.4,95.7 256.1,96.1 256.8,96.4 257.6,96.7 258.3,97.0 259.1,97.3 259.8,97.6 260.5,97.9 261.3,98.2 262.0,98.6 262.7,98.9 263.5,99.2 264.2,99.5 265.0,99.8 265.7,100.1 266.4,100.4 267.2,100.8 267.9,101.1 268.6,101.4 269.4,101.7 270.1,102.0 270.8,102.3 271.6,102.7 272.3,103.0 273.1,103.3 273.8,103.6 274.5,103.9 275.3,104.2 276.0,104.5 276.7,104.9 277.5,105.2 278.2,105.5 278.9,105.8 279.7,106.1 280.4,106.4 281.2,106.7 281.9,107.1 282.6,107.4 283.4,107.7 284.1,108.0 284.8,108.3 285.6,108.6 286.3,109.0 287.0,109.3 287.8,109.6 288.5,109.9 289.2,110.2 290.0,110.5 290.7,110.9 291.5,111.2 292.2,111.5 292.9,111.8 293.7,112.1 294.4,112.4 295.1,112.7 295.9,113.1 296.6,113.4 297.3,113.7 298.1,114.0 298.8,114.3 299.5,114.6 300.3,115.0 301.0,115.3 301.7,115.6 302.5,115.9 303.2,116.1 303.9,116.4 304.7,116.8 305.4,117.2 306.1,117.6 306.9,117.9 307.6,118.1 308.4,118.4 309.1,118.9 309.8,119.3 310.6,119.6 311.3,119.9 312.0,120.1 312.8,120.4 313.5,121.0 314.2,121.4 315.0,121.7 315.7,121.9 316.4,122.0 317.2,122.3 317.9,122.4 318.6,122.5 319.4,123.2 320.1,123.8 320.8,123.9 321.6,124.3 322.3,124.7 323.0,124.5 323.8,124.5 324.5,124.9 325.2,125.5 326.0,126.3 326.7,126.5 327.4,126.3 328.2,126.9 328.9,128.0 329.6,127.8 330.4,127.5 331.1,128.3 331.8,129.0 332.6,128.9 333.3,128.6 334.0,129.0 334.8,129.8 335.5,129.9 336.2,130.0 337.0,131.2 337.7,131.6 338.4,131.4 339.2,131.7 339.9,132.2 340.6,132.1 341.4,132.4 342.1,132.9 342.8,133.3 343.6,133.7 344.3,133.9 345.0,134.3 345.8,135.4 346.5,135.8 347.2,135.0 348.0,134.5 348.7,135.0 349.4,135.2 350.2,135.8 350.9,136.7 351.6,137.7 352.4,137.9 353.1,138.0 353.8,139.2 354.6,139.5 355.3,138.2 356.0,137.4 356.8,138.5 357.5,139.0 358.2,138.7 359.0,139.6 359.7,140.2 360.4,140.5 361.2,141.5 361.9,142.0 362.6,141.9 363.4,142.0 364.1,142.0 364.8,142.3 365.6,143.1 366.3,143.7 367.0,143.1 367.8,143.1 368.5,143.9 369.2,144.3 370.0,145.2 370.7,146.3 371.4,145.9 372.2,145.2 372.9,145.7 373.6,146.9 374.3,147.4 375.1,147.7 375.8,147.9 376.5,147.8 377.3,147.5 378.0,146.9 378.7,146.3 379.5,147.1 380.2,148.6 380.9,149.3 381.7,149.8 382.4,150.1 383.1,150.7 383.9,151.2 384.6,151.1 385.3,151.0 386.1,151.6 386.8,152.7 387.5,153.4 388.3,154.0 389.0,154.8 389.7,154.9 390.5,154.9 391.2,154.9 391.9,154.6 392.7,155.1 393.4,155.0 394.1,155.1 394.9,155.9 395.6,156.3 396.3,156.5 397.1,156.9 397.8,157.6 398.5,158.1 399.3,157.4 400.0,157.4 400.7,158.4 401.5,159.2 402.2,159.1 402.9,159.3 403.7,159.3 404.4,158.8 405.1,159.2 405.9,160.1 406.6,160.7 407.3,160.8 408.1,160.8 408.8,161.1 409.5,161.4 410.3,161.9 411.0,162.3 411.7,162.5 412.5,163.1 413.2,164.0 413.9,164.5 414.7,164.8 415.4,165.0 416.1,165.0 416.9,165.7 417.6,166.3 418.3,166.4 419.1,166.3 419.8,166.7 420.5,167.9 421.3,168.4 422.0,168.0 422.7,168.1 423.5,168.6 424.2,169.2 424.9,169.7 425.7,169.3 426.4,168.5 427.1,168.7 427.9,169.6 428.6,170.1 429.3,170.4 430.1,170.8 430.8,172.1 431.5,172.0 432.3,170.9 433.0,171.4 433.7,172.5 434.5,172.6 435.2,172.4 435.9,172.3 436.7,173.0 437.4,174.1 438.1,174.9 438.9,174.7 439.6,174.7 440.3,175.1 441.1,175.8 441.8,176.2 442.5,176.4 443.3,176.3 444.0,176.5 444.7,176.7 445.5,177.8 446.2,178.1 446.9,177.9 447.7,178.0 448.4,178.7 449.1,179.6 449.9,180.2 450.6,180.3 451.3,180.8 452.1,180.7 452.8,180.5 453.5,180.9 454.3,181.5 455.0,181.7 455.8,182.0 456.5,182.3 457.2,183.2 458.0,183.5 458.7,182.8 459.4,183.0 460.2,184.1 460.9,184.8 461.6,184.4 462.4,184.1 463.1,185.4 463.8,185.9 464.6,185.4 465.3,185.8 466.0,186.1 466.8,186.4 467.5,186.8 468.2,187.0 469.0,187.9 469.7,188.6 470.5,188.4 471.2,187.8 471.9,187.6 472.7,187.8 473.4,188.8 474.1,190.2 474.9,190.4 475.6,189.7 476.3,189.8 477.1,190.3 477.8,190.6 478.5,191.4 479.3,192.4 480.0,192.3 480.8,192.1 481.5,193.1 482.2,194.2 483.0,194.3 483.7,194.0 484.4,194.3 485.2,194.9 485.9,195.3 486.6,195.3 487.4,194.8 488.1,195.2 488.9,195.7 489.6,196.4 490.3,197.3 491.1,197.4 491.8,196.9 492.5,197.3 493.3,197.8 494.0,198.6 494.8,198.9 495.5,198.3 496.2,198.3 497.0,199.3 497.7,200.0 498.4,200.5 499.2,200.8 499.9,201.0 500.7,201.2 501.4,201.3 502.1,201.4 502.9,201.4 503.6,201.8 504.3,202.9 505.1,202.9 505.8,202.3 506.6,202.7 507.3,203.9 508.0,204.4 508.8,204.3 509.5,204.2 510.2,205.0 511.0,206.4 511.7,206.8 512.5,206.7 513.2,207.2 513.9,207.4 514.7,207.4 515.4,207.4 516.2,207.6 516.9,208.2 517.6,208.4 518.4,208.0 519.1,208.2 519.9,209.2 520.6,210.0 521.3,209.6 522.1,209.4 522.8,209.8 523.5,210.8 524.3,211.9 525.0,212.5 525.8,212.6 526.5,212.2 527.2,212.1 528.0,213.2 528.7,213.8 529.5,213.6 530.2,213.4 530.9,213.7 531.7,213.7 532.4,213.8 533.2,213.8 533.9,214.0 534.7,215.1 535.4,216.2 536.1,216.5 536.9,216.2 537.6,216.0 538.4,215.7 539.1,215.4 539.8,216.1 540.6,217.1 541.3,217.6 542.1,218.6 542.8,219.2 543.5,219.3 544.3,219.7 545.0,220.0 545.8,220.2 546.5,220.3 547.3,220.4 548.0,220.6 548.7,220.9 549.5,221.1 550.2,221.4 551.0,222.1 551.7,222.3 552.5,222.6 553.2,223.1 553.9,223.1 554.7,222.8 555.4,223.2 556.2,223.0 556.9,222.2 557.7,222.7 558.4,224.0 559.1,225.0 559.9,225.3 560.6,225.6 561.4,226.3 562.1,226.6 562.9,226.5 563.6,226.4 564.3,226.4 565.1,226.7 565.8,227.7 566.6,228.7 567.3,228.9 568.1,228.8 568.8,228.4 569.6,228.5 570.3,229.3 571.0,230.1 571.8,230.6 572.5,230.8 573.3,231.2 574.0,231.3 574.8,231.8 575.5,232.2 576.3,232.0 577.0,232.5 577.8,233.2 578.5,233.3 579.2,233.2 580.0,233.6 580.7,233.8 581.5,232.9 582.2,232.7 583.0,234.0 583.7,235.4 584.5,235.6 585.2,234.9 586.0,234.8 586.7,235.7 587.5,236.0 588.2,235.8 588.9,235.7 589.7,236.3 590.4,237.2 591.2,237.8 591.9,238.0 592.7,237.8 593.4,237.7 594.2,238.2 594.9,238.6 595.7,239.2 596.4,239.6 597.2,239.4 597.9,239.7 598.7,240.7 599.4,240.9 600.2,240.0 600.9,239.6 601.7,240.8 602.4,242.3 603.2,242.7 603.9,242.3 604.7,242.3 605.4,243.1 606.2,243.6 606.9,243.5 607.2,243.7" fill="none" stroke="#3838d4" stroke-width="1.4" stroke-linejoin="round" />
<polyline points="149.8,137.6 150.0,136.9 150.1,136.2 150.3,135.4 150.5,134.7 150.7,134.0 150.9,133.2 151.1,132.5 151.4,131.7 151.6,131.0 151.9,130.2 152.2,129.5 152.5,128.7 152.8,128.0 153.1,127.2 153.4,126.5 153.8,125.7 154.1,125.0 154.5,124.3 154.9,123.5 155.3,122.8 155.7,122.1 156.1,121.3 156.6,120.6 157.0,119.9 157.5,119.2 157.9,118.5 158.4,117.8 158.9,117.2 159.4,116.5 159.9,115.8 160.4,115.2 160.9,114.5 161.5,113.9 162.0,113.3 162.6,112.7 163.2,112.1 163.7,111.5 164.3,111.0 164.9,110.4 165.5,109.9 166.1,109.3 166.8,108.8 167.4,108.4 168.0,107.9 168.7,107.4 169.3,107.0 170.0,106.6 170.7,106.2 171.4,105.8 172.0,105.4 172.7,105.1 173.4,104.7 174.1,104.4 174.8,104.1 175.6,103.8 176.3,103.6 177.0,103.4 177.7,103.1 178.5,102.9 179.2,102.7 180.0,102.6 180.7,102.4 181.5,102.3 182.2,102.2 183.0,102.1 183.8,102.1 184.5,102.0 185.3,102.0 186.1,102.0 186.9,102.0 187.7,102.0 188.4,102.1 189.2,102.2 190.0,102.2 190.8,102.3 191.6,102.4 192.4,102.6 193.2,102.7 194.0,102.8 194.8,103.0 195.6,103.2 196.4,103.3 197.1,103.5 197.9,103.7 198.7,103.9 199.5,104.1 200.3,104.3 201.1,104.5 201.9,104.8 202.7,105.0 203.5,105.2 204.3,105.4 205.0,105.7 205.8,105.9 206.6,106.1 207.4,106.3 208.1,106.6 208.9,106.8 209.7,107.1 210.5,107.3 211.2,107.6 212.0,107.8 212.8,108.1 213.5,108.3 214.3,108.6 215.0,108.8 215.8,109.1 216.6,109.4 217.3,109.6 218.1,109.9 218.8,110.2 219.6,110.4 220.3,110.7 221.1,111.0 221.9,111.3 222.6,111.5 223.3,111.8 224.1,112.1 224.8,112.4 225.6,112.7 226.3,113.0 227.1,113.3 227.8,113.6 228.6,113.9 229.3,114.2 230.0,114.5 230.8,114.8 231.5,115.1 232.3,115.4 233.0,115.7 233.7,116.0 234.5,116.3 235.2,116.6 235.9,117.0 236.7,117.3 237.4,117.6 238.1,117.9 238.9,118.2 239.6,118.6 240.3,118.9 241.0,119.2 241.8,119.6 242.5,119.9 243.2,120.2 244.0,120.5 244.7,120.9 245.4,121.2 246.1,121.5 246.9,121.9 247.6,122.2 248.3,122.6 249.0,122.9 249.8,123.2 250.5,123.6 251.2,123.9 251.9,124.3 252.7,124.6 253.4,124.9 254.1,125.3 254.8,125.6 255.6,126.0 256.3,126.3 257.0,126.6 257.7,127.0 258.5,127.3 259.2,127.7 259.9,128.1 260.6,128.4 261.4,128.7 262.1,129.1 262.8,129.5 263.5,129.8 264.2,130.2 265.0,130.9 265.7,131.1 266.4,131.4 267.1,132.0 267.9,132.1 268.6,131.8 269.3,131.8 270.1,132.3 270.8,133.0 271.5,133.3 272.2,133.9 273.0,134.6 273.7,135.1 274.4,135.2 275.1,134.9 275.9,135.4 276.6,136.0 277.3,136.3 278.0,136.6 278.8,136.5 279.5,136.8 280.2,137.3 280.9,137.3 281.7,137.8 282.4,138.0 283.1,138.2 283.9,139.0 284.6,139.6 285.3,139.9 286.0,140.1 286.8,140.2 287.5,140.4 288.2,140.5 289.0,140.8 289.7,141.6 290.4,142.5 291.1,143.1 291.9,143.2 292.6,143.0 293.3,143.2 294.1,143.4 294.8,143.8 295.5,144.4 296.2,144.9 297.0,145.1 297.7,145.4 298.4,145.5 299.2,145.4 299.9,146.0 300.6,146.5 301.3,146.6 302.1,147.0 302.8,147.7 303.5,147.8 304.3,147.8 305.0,148.6 305.7,149.2 306.5,148.6 307.2,148.4 307.9,149.1 308.6,149.5 309.4,149.8 310.1,150.1 310.8,150.4 311.6,151.5 312.3,151.9 313.0,151.8 313.8,153.3 314.5,154.2 315.2,153.7 316.0,154.3 316.7,154.8 317.4,153.6 318.2,153.2 318.9,153.9 319.6,155.2 320.3,156.1 321.1,155.5 321.8,155.0 322.5,156.7 323.3,157.3 324.0,156.6 324.7,156.7 325.5,156.9 326.2,156.8 326.9,157.8 327.7,158.8 328.4,158.6 329.1,159.0 329.9,159.6 330.6,159.2 331.3,159.5 332.1,160.8 332.8,161.6 333.5,160.9 334.3,161.1 335.0,161.9 335.7,162.3 336.5,163.2 337.2,162.9 337.9,162.8 338.7,164.2 339.4,164.4 340.1,164.1 340.9,165.0 341.6,165.5 342.3,165.1 343.1,164.9 343.8,166.2 344.5,166.6 345.3,165.8 346.0,166.6 346.7,167.8 347.5,166.3 348.2,165.4 349.0,166.9 349.7,168.6 350.4,169.0 351.2,169.4 351.9,170.0 352.6,169.8 353.4,170.1 354.1,171.3 354.8,170.0 355.6,169.1 356.3,170.9 357.0,171.8 357.8,171.8 358.5,173.4 359.2,173.8 360.0,172.6 360.7,171.1 361.4,171.5 362.2,172.7 362.9,173.2 363.7,172.8 364.4,172.5 365.1,173.4 365.9,174.1 366.6,175.6 367.3,177.3 368.1,177.4 368.8,177.5 369.5,178.0 370.3,178.1 371.0,178.0 371.8,178.3 372.5,178.4 373.2,177.7 374.0,177.9 374.7,179.0 375.4,180.3 376.2,181.2 376.9,180.7 377.6,180.3 378.4,180.0 379.1,180.3 379.9,181.3 380.6,182.0 381.3,182.1 382.1,181.4 382.8,181.4 383.5,182.2 384.3,183.2 385.0,183.6 385.8,184.4 386.5,184.7 387.2,183.5 388.0,183.2 388.7,185.0 389.4,186.3 390.2,185.9 390.9,185.0 391.7,185.7 392.4,187.3 393.1,187.7 393.9,187.3 394.6,187.5 395.3,188.0 396.1,188.7 396.8,188.0 397.6,187.1 398.3,187.8 399.0,188.9 399.8,190.0 400.5,190.7 401.3,190.5 402.0,190.1 402.7,190.6 403.5,191.0 404.2,190.9 404.9,190.3 405.7,191.5 406.4,193.1 407.2,192.6 407.9,192.0 408.6,192.8 409.4,193.6 410.1,193.8 410.8,193.8 411.6,194.7 412.3,195.1 413.1,194.8 413.8,195.2 414.5,195.8 415.3,196.1 416.0,196.4 416.8,196.5 417.5,196.7 418.2,197.1 419.0,197.1 419.7,197.2 420.5,197.8 421.2,198.2 421.9,198.4 422.7,198.7 423.4,199.2 424.1,199.4 424.9,199.7 425.6,200.2 426.4,200.4 427.1,200.5 427.8,200.7 428.6,201.1 429.3,201.4 430.1,201.7 430.8,201.3 431.5,200.7 432.3,200.8 433.0,201.8 433.8,203.0 434.5,203.7 435.2,204.0 436.0,204.2 436.7,204.3 437.5,204.6 438.2,205.3 438.9,205.8 439.7,206.0 440.4,206.4 441.2,206.7 441.9,206.8 442.6,207.1 443.4,207.6 444.1,208.1 444.9,208.3 445.6,208.4 446.3,208.6 447.1,208.9 447.8,209.3 448.5,209.7 449.3,209.9 450.0,210.4 450.8,210.8 451.5,210.9 452.2,211.1 453.0,211.5 453.7,211.8 454.5,212.2 455.2,212.4 455.9,212.3 456.7,212.5 457.4,213.1 458.2,213.5 458.9,213.8 459.6,214.0 460.4,214.5 461.1,215.3 461.9,215.6 462.6,215.6 463.3,215.7 464.1,216.0 464.8,216.2 465.6,216.7 466.3,216.9 467.0,217.1 467.8,217.5 468.5,217.7 469.3,218.0 470.0,218.5 470.7,218.7 471.5,218.9 472.2,219.3 473.0,219.8 473.7,220.0 474.4,220.1 475.2,220.4 475.9,220.9 476.7,221.3 477.4,221.5 478.1,221.5 478.9,221.8 479.6,222.3 480.4,222.8 481.1,223.2 481.8,223.6 482.6,223.8 483.3,223.9 484.1,224.1 484.8,224.5 485.5,224.8 486.3,225.3 487.0,225.9 487.8,225.9 488.5,225.8 489.2,226.0 490.0,226.7 490.7,227.1 491.4,227.2 492.2,227.5 492.9,227.9 493.7,228.1 494.4,228.5 495.1,228.6 495.9,228.6 496.6,229.1 497.4,229.7 498.1,230.1 498.8,230.4 499.6,230.6 500.3,230.5 501.1,230.8 501.8,231.6 502.5,232.2 503.3,232.3 504.0,232.4 504.8,232.7 505.5,233.0 506.2,233.3 507.0,233.6 507.7,233.8 508.5,234.1 509.2,234.5 509.9,234.7 510.7,235.2 511.4,235.7 512.1,235.9 512.9,236.1 513.6,236.7 514.4,237.0 515.1,237.0 515.8,237.5 516.6,237.9 517.3,237.7 518.1,237.8 518.8,238.2 519.5,238.4 520.3,238.7 521.0,239.3 521.7,239.9 522.5,240.3 523.2,240.8 524.0,241.2 524.7,241.2 525.4,241.5 526.2,242.0 526.9,242.1 527.7,242.2 528.4,242.8 529.1,243.3 529.9,243.5 530.6,243.7 531.3,244.0 532.1,244.0 532.8,244.3 533.6,244.7 534.3,245.1 535.0,245.6 535.8,246.2 536.5,246.2 537.3,246.2 538.0,246.5 538.7,247.4 539.5,247.8 540.2,247.9 540.9,248.1 541.7,248.4 542.4,248.3 543.2,248.2 543.9,248.7 544.6,249.4 545.4,249.9 546.1,250.3 546.8,250.6 547.6,250.7 548.3,250.9 549.1,251.3 549.8,251.7 550.5,251.7 551.3,252.1 552.0,252.7 552.7,253.0 553.5,253.2 554.2,253.6 554.9,254.5 555.7,255.2 556.4,255.4 557.2,255.5 557.9,255.5 558.6,255.6 559.4,256.0 560.1,256.5 560.8,256.7 561.6,256.7 562.3,256.9 563.0,257.2 563.8,257.4 564.5,257.8 565.3,258.2 566.0,258.6 566.7,258.9 567.5,259.2 568.2,259.6 568.9,259.8 569.7,260.1 570.4,260.3 571.1,260.6 571.9,260.8 572.6,261.1 573.4,261.5 574.1,261.7 574.8,261.8 575.6,262.2 576.3,262.7 577.0,263.0 577.8,263.2 578.5,263.6 579.2,264.2 580.0,264.6 580.7,264.8 581.4,265.2 582.2,265.6 582.9,266.0 583.6,266.3 584.4,266.5 585.1,266.7 585.8,267.2 586.6,267.8 587.3,268.2 588.0,268.5 588.8,268.8 589.5,268.9 590.2,269.1 591.0,269.4 591.7,269.7 592.5,270.0 593.2,270.2 593.9,270.4 594.7,270.8 595.4,271.2 596.1,271.8 596.9,272.0 597.6,272.0 598.3,272.4 599.1,273.0 599.8,273.2 600.5,273.4 601.3,273.6 602.0,273.9 602.7,274.2 603.5,274.6 604.2,275.3 604.9,275.7 605.6,275.9 606.4,276.0 607.1,276.0 607.2,276.0" fill="none" stroke="#781c86" stroke-width="1.4" stroke-linejoin="round" />
<line x1="211.4" y1="112.7" x2="607.2" y2="274.7" stroke="#781c86" stroke-width="1.4" stroke-dasharray="5.6 6" />
<line x1="191.1" y1="73.3" x2="607.2" y2="243.6" stroke="#3838d4" stroke-width="1.4" stroke-dasharray="5.6 6" />
<line x1="176.8" y1="47.2" x2="607.2" y2="223.3" stroke="#4286c8" stroke-width="1.4" stroke-dasharray="5.6 6" />
<line x1="199.6" y1="39.8" x2="607.2" y2="206.6" stroke="#62ad80" stroke-width="1.4" stroke-dasharray="5.6 6" />
<line x1="297.5" y1="65.3" x2="607.2" y2="192.0" stroke="#9cc04c" stroke-width="1.4" stroke-dasharray="5.6 6" />
<line x1="394.0" y1="88.7" x2="607.2" y2="176.0" stroke="#d8ae38" stroke-width="1.4" stroke-dasharray="5.6 6" />
<line x1="503.8" y1="115.0" x2="607.2" y2="157.3" stroke="#e4762e" stroke-width="1.4" stroke-dasharray="5.6 6" />
<line x1="458.7" y1="90.6" x2="607.2" y2="135.6" stroke="#db2122" stroke-width="1.15" stroke-dasharray="4.5 2.5 1.2 2.5" />
</g>
<rect x="48.3" y="0.9" width="558.9" height="279.4" fill="none" stroke="#bababa" stroke-width="1.2"/>
<text x="45.0" y="15.7" text-anchor="end" font-family='"Liberation Serif", "DejaVu Serif", serif' font-size="12.5" fill="#222222">1</text>
<text x="45.4" y="62.9" text-anchor="end" font-family='"Liberation Serif", "DejaVu Serif", serif' font-size="12.5" fill="#222222">0.100</text>
<text x="45.4" y="110.1" text-anchor="end" font-family='"Liberation Serif", "DejaVu Serif", serif' font-size="12.5" fill="#222222">0.010</text>
<text x="45.4" y="157.3" text-anchor="end" font-family='"Liberation Serif", "DejaVu Serif", serif' font-size="12.5" fill="#222222">0.001</text>
<text x="44.8" y="204.5" text-anchor="end" font-family='"Liberation Serif", "DejaVu Serif", serif' font-size="12.5" fill="#222222">10<tspan font-size="8.9" dy="-4.3">−4</tspan></text>
<text x="44.8" y="251.7" text-anchor="end" font-family='"Liberation Serif", "DejaVu Serif", serif' font-size="12.5" fill="#222222">10<tspan font-size="8.9" dy="-4.3">−5</tspan></text>
<text x="88.2" y="294.2" text-anchor="middle" font-family='"Liberation Serif", "DejaVu Serif", serif' font-size="12.5" fill="#222222">0.1</text>
<text x="269.6" y="294.2" text-anchor="middle" font-family='"Liberation Serif", "DejaVu Serif", serif' font-size="12.5" fill="#222222">0.5</text>
<text x="347.7" y="294.2" text-anchor="middle" font-family='"Liberation Serif", "DejaVu Serif", serif' font-size="12.5" fill="#222222">1</text>
<text x="529.1" y="294.2" text-anchor="middle" font-family='"Liberation Serif", "DejaVu Serif", serif' font-size="12.5" fill="#222222">5</text>
<text x="607.2" y="294.2" text-anchor="middle" font-family='"Liberation Serif", "DejaVu Serif", serif' font-size="12.5" fill="#222222">10</text>
<text x="327.5" y="311.0" text-anchor="middle" font-family='"Liberation Serif", "DejaVu Serif", serif' font-size="12.5" fill="#222222">t [yr]</text>
<text transform="translate(12.5 140.8) rotate(-90)" text-anchor="middle" font-family='"Liberation Serif", "DejaVu Serif", serif' font-size="13" fill="#222222"><tspan font-style="italic">M</tspan><tspan dx="-5.6" dy="-8.6" font-size="9">.</tspan><tspan dx="3.6" dy="8.6"> [</tspan><tspan dx="0.4" font-style="italic">M</tspan><tspan font-size="9.6" dx="-0.6" dy="2.6">⊙</tspan><tspan dy="-2.6" dx="-0.4"> yr</tspan><tspan font-size="9.2" dx="0.5" dy="-4.6">−1</tspan><tspan dy="4.6" dx="0.2">]</tspan></text>
<line x1="65.6" y1="126.4" x2="79.5" y2="126.4" stroke="#db2122" stroke-width="1.9" />
<text x="83.2" y="129.2" font-family='"Liberation Serif", "DejaVu Serif", serif' font-size="9.2" word-spacing="0.5" fill="#222222"><tspan font-style="italic">β</tspan> = 0.90</text>
<line x1="65.6" y1="145.7" x2="79.5" y2="145.7" stroke="#e4762e" stroke-width="1.9" />
<text x="83.2" y="148.5" font-family='"Liberation Serif", "DejaVu Serif", serif' font-size="9.2" word-spacing="0.5" fill="#222222"><tspan font-style="italic">β</tspan> = 0.85</text>
<line x1="65.6" y1="165.0" x2="79.5" y2="165.0" stroke="#d8ae38" stroke-width="1.9" />
<text x="83.2" y="167.8" font-family='"Liberation Serif", "DejaVu Serif", serif' font-size="9.2" word-spacing="0.5" fill="#222222"><tspan font-style="italic">β</tspan> = 0.80</text>
<line x1="65.6" y1="184.4" x2="79.5" y2="184.4" stroke="#9cc04c" stroke-width="1.9" />
<text x="83.2" y="187.2" font-family='"Liberation Serif", "DejaVu Serif", serif' font-size="9.2" word-spacing="0.5" fill="#222222"><tspan font-style="italic">β</tspan> = 0.75</text>
<line x1="65.6" y1="203.7" x2="79.5" y2="203.7" stroke="#62ad80" stroke-width="1.9" />
<text x="83.2" y="206.5" font-family='"Liberation Serif", "DejaVu Serif", serif' font-size="9.2" word-spacing="0.5" fill="#222222"><tspan font-style="italic">β</tspan> = 0.70</text>
<line x1="65.6" y1="223.0" x2="79.5" y2="223.0" stroke="#4286c8" stroke-width="1.9" />
<text x="83.2" y="225.8" font-family='"Liberation Serif", "DejaVu Serif", serif' font-size="9.2" word-spacing="0.5" fill="#222222"><tspan font-style="italic">β</tspan> = 0.65</text>
<line x1="65.6" y1="242.3" x2="79.5" y2="242.3" stroke="#3838d4" stroke-width="1.9" />
<text x="83.2" y="245.1" font-family='"Liberation Serif", "DejaVu Serif", serif' font-size="9.2" word-spacing="0.5" fill="#222222"><tspan font-style="italic">β</tspan> = 0.60</text>
<line x1="65.6" y1="261.6" x2="79.5" y2="261.6" stroke="#781c86" stroke-width="1.9" />
<text x="83.2" y="264.4" font-family='"Liberation Serif", "DejaVu Serif", serif' font-size="9.2" word-spacing="0.5" fill="#222222"><tspan font-style="italic">β</tspan> = 0.55</text>
<line x1="124.2" y1="242.3" x2="155.4" y2="242.3" stroke="#e8383a" stroke-width="0.8" stroke-dasharray="3.2 1.3 0.9 1.3" />
<line x1="124.2" y1="261.6" x2="155.4" y2="261.6" stroke="#505050" stroke-width="1.25" stroke-dasharray="3.5 2.1" />
<text x="160.6" y="245.1" font-family='"Liberation Sans", "DejaVu Sans", sans-serif' font-size="8.2" fill="#222222"><tspan font-weight="bold">t</tspan><tspan font-size="7.6" dy="-3.4">−5/3</tspan></text>
<text x="160.6" y="264.4" font-family='"Liberation Sans", "DejaVu Sans", sans-serif' font-size="8.2" fill="#222222"><tspan font-weight="bold">t</tspan><tspan font-size="7.6" dy="-3.4">−9/4</tspan></text>
</g>
<g id="bottom">
<line x1="52.0" y1="613.6" x2="52.0" y2="611.0" stroke="#b4b4b4" stroke-width="0.55" />
<line x1="52.0" y1="333.8" x2="52.0" y2="336.4" stroke="#b4b4b4" stroke-width="0.55" />
<line x1="59.5" y1="613.6" x2="59.5" y2="611.0" stroke="#b4b4b4" stroke-width="0.55" />
<line x1="59.5" y1="333.8" x2="59.5" y2="336.4" stroke="#b4b4b4" stroke-width="0.55" />
<line x1="66.1" y1="613.6" x2="66.1" y2="611.0" stroke="#b4b4b4" stroke-width="0.55" />
<line x1="66.1" y1="333.8" x2="66.1" y2="336.4" stroke="#b4b4b4" stroke-width="0.55" />
<line x1="71.8" y1="613.6" x2="71.8" y2="611.0" stroke="#b4b4b4" stroke-width="0.55" />
<line x1="71.8" y1="333.8" x2="71.8" y2="336.4" stroke="#b4b4b4" stroke-width="0.55" />
<line x1="77.0" y1="613.6" x2="77.0" y2="608.4" stroke="#b4b4b4" stroke-width="0.55" />
<line x1="77.0" y1="333.8" x2="77.0" y2="339.0" stroke="#b4b4b4" stroke-width="0.55" />
<line x1="111.0" y1="613.6" x2="111.0" y2="611.0" stroke="#b4b4b4" stroke-width="0.55" />
<line x1="111.0" y1="333.8" x2="111.0" y2="336.4" stroke="#b4b4b4" stroke-width="0.55" />
<line x1="130.9" y1="613.6" x2="130.9" y2="611.0" stroke="#b4b4b4" stroke-width="0.55" />
<line x1="130.9" y1="333.8" x2="130.9" y2="336.4" stroke="#b4b4b4" stroke-width="0.55" />
<line x1="145.0" y1="613.6" x2="145.0" y2="611.0" stroke="#b4b4b4" stroke-width="0.55" />
<line x1="145.0" y1="333.8" x2="145.0" y2="336.4" stroke="#b4b4b4" stroke-width="0.55" />
<line x1="155.9" y1="613.6" x2="155.9" y2="611.0" stroke="#b4b4b4" stroke-width="0.55" />
<line x1="155.9" y1="333.8" x2="155.9" y2="336.4" stroke="#b4b4b4" stroke-width="0.55" />
<line x1="164.9" y1="613.6" x2="164.9" y2="611.0" stroke="#b4b4b4" stroke-width="0.55" />
<line x1="164.9" y1="333.8" x2="164.9" y2="336.4" stroke="#b4b4b4" stroke-width="0.55" />
<line x1="172.4" y1="613.6" x2="172.4" y2="611.0" stroke="#b4b4b4" stroke-width="0.55" />
<line x1="172.4" y1="333.8" x2="172.4" y2="336.4" stroke="#b4b4b4" stroke-width="0.55" />
<line x1="179.0" y1="613.6" x2="179.0" y2="611.0" stroke="#b4b4b4" stroke-width="0.55" />
<line x1="179.0" y1="333.8" x2="179.0" y2="336.4" stroke="#b4b4b4" stroke-width="0.55" />
<line x1="184.7" y1="613.6" x2="184.7" y2="611.0" stroke="#b4b4b4" stroke-width="0.55" />
<line x1="184.7" y1="333.8" x2="184.7" y2="336.4" stroke="#b4b4b4" stroke-width="0.55" />
<line x1="189.9" y1="613.6" x2="189.9" y2="608.4" stroke="#b4b4b4" stroke-width="0.55" />
<line x1="189.9" y1="333.8" x2="189.9" y2="339.0" stroke="#b4b4b4" stroke-width="0.55" />
<line x1="223.9" y1="613.6" x2="223.9" y2="611.0" stroke="#b4b4b4" stroke-width="0.55" />
<line x1="223.9" y1="333.8" x2="223.9" y2="336.4" stroke="#b4b4b4" stroke-width="0.55" />
<line x1="243.8" y1="613.6" x2="243.8" y2="611.0" stroke="#b4b4b4" stroke-width="0.55" />
<line x1="243.8" y1="333.8" x2="243.8" y2="336.4" stroke="#b4b4b4" stroke-width="0.55" />
<line x1="257.9" y1="613.6" x2="257.9" y2="611.0" stroke="#b4b4b4" stroke-width="0.55" />
<line x1="257.9" y1="333.8" x2="257.9" y2="336.4" stroke="#b4b4b4" stroke-width="0.55" />
<line x1="268.8" y1="613.6" x2="268.8" y2="611.0" stroke="#b4b4b4" stroke-width="0.55" />
<line x1="268.8" y1="333.8" x2="268.8" y2="336.4" stroke="#b4b4b4" stroke-width="0.55" />
<line x1="277.8" y1="613.6" x2="277.8" y2="611.0" stroke="#b4b4b4" stroke-width="0.55" />
<line x1="277.8" y1="333.8" x2="277.8" y2="336.4" stroke="#b4b4b4" stroke-width="0.55" />
<line x1="285.3" y1="613.6" x2="285.3" y2="611.0" stroke="#b4b4b4" stroke-width="0.55" />
<line x1="285.3" y1="333.8" x2="285.3" y2="336.4" stroke="#b4b4b4" stroke-width="0.55" />
<line x1="291.9" y1="613.6" x2="291.9" y2="611.0" stroke="#b4b4b4" stroke-width="0.55" />
<line x1="291.9" y1="333.8" x2="291.9" y2="336.4" stroke="#b4b4b4" stroke-width="0.55" />
<line x1="297.6" y1="613.6" x2="297.6" y2="611.0" stroke="#b4b4b4" stroke-width="0.55" />
<line x1="297.6" y1="333.8" x2="297.6" y2="336.4" stroke="#b4b4b4" stroke-width="0.55" />
<line x1="302.8" y1="613.6" x2="302.8" y2="608.4" stroke="#b4b4b4" stroke-width="0.55" />
<line x1="302.8" y1="333.8" x2="302.8" y2="339.0" stroke="#b4b4b4" stroke-width="0.55" />
<line x1="336.8" y1="613.6" x2="336.8" y2="611.0" stroke="#b4b4b4" stroke-width="0.55" />
<line x1="336.8" y1="333.8" x2="336.8" y2="336.4" stroke="#b4b4b4" stroke-width="0.55" />
<line x1="356.7" y1="613.6" x2="356.7" y2="611.0" stroke="#b4b4b4" stroke-width="0.55" />
<line x1="356.7" y1="333.8" x2="356.7" y2="336.4" stroke="#b4b4b4" stroke-width="0.55" />
<line x1="370.8" y1="613.6" x2="370.8" y2="611.0" stroke="#b4b4b4" stroke-width="0.55" />
<line x1="370.8" y1="333.8" x2="370.8" y2="336.4" stroke="#b4b4b4" stroke-width="0.55" />
<line x1="381.7" y1="613.6" x2="381.7" y2="611.0" stroke="#b4b4b4" stroke-width="0.55" />
<line x1="381.7" y1="333.8" x2="381.7" y2="336.4" stroke="#b4b4b4" stroke-width="0.55" />
<line x1="390.7" y1="613.6" x2="390.7" y2="611.0" stroke="#b4b4b4" stroke-width="0.55" />
<line x1="390.7" y1="333.8" x2="390.7" y2="336.4" stroke="#b4b4b4" stroke-width="0.55" />
<line x1="398.2" y1="613.6" x2="398.2" y2="611.0" stroke="#b4b4b4" stroke-width="0.55" />
<line x1="398.2" y1="333.8" x2="398.2" y2="336.4" stroke="#b4b4b4" stroke-width="0.55" />
<line x1="404.8" y1="613.6" x2="404.8" y2="611.0" stroke="#b4b4b4" stroke-width="0.55" />
<line x1="404.8" y1="333.8" x2="404.8" y2="336.4" stroke="#b4b4b4" stroke-width="0.55" />
<line x1="410.5" y1="613.6" x2="410.5" y2="611.0" stroke="#b4b4b4" stroke-width="0.55" />
<line x1="410.5" y1="333.8" x2="410.5" y2="336.4" stroke="#b4b4b4" stroke-width="0.55" />
<line x1="415.7" y1="613.6" x2="415.7" y2="608.4" stroke="#b4b4b4" stroke-width="0.55" />
<line x1="415.7" y1="333.8" x2="415.7" y2="339.0" stroke="#b4b4b4" stroke-width="0.55" />
<line x1="449.7" y1="613.6" x2="449.7" y2="611.0" stroke="#b4b4b4" stroke-width="0.55" />
<line x1="449.7" y1="333.8" x2="449.7" y2="336.4" stroke="#b4b4b4" stroke-width="0.55" />
<line x1="469.6" y1="613.6" x2="469.6" y2="611.0" stroke="#b4b4b4" stroke-width="0.55" />
<line x1="469.6" y1="333.8" x2="469.6" y2="336.4" stroke="#b4b4b4" stroke-width="0.55" />
<line x1="483.7" y1="613.6" x2="483.7" y2="611.0" stroke="#b4b4b4" stroke-width="0.55" />
<line x1="483.7" y1="333.8" x2="483.7" y2="336.4" stroke="#b4b4b4" stroke-width="0.55" />
<line x1="494.6" y1="613.6" x2="494.6" y2="611.0" stroke="#b4b4b4" stroke-width="0.55" />
<line x1="494.6" y1="333.8" x2="494.6" y2="336.4" stroke="#b4b4b4" stroke-width="0.55" />
<line x1="503.6" y1="613.6" x2="503.6" y2="611.0" stroke="#b4b4b4" stroke-width="0.55" />
<line x1="503.6" y1="333.8" x2="503.6" y2="336.4" stroke="#b4b4b4" stroke-width="0.55" />
<line x1="511.1" y1="613.6" x2="511.1" y2="611.0" stroke="#b4b4b4" stroke-width="0.55" />
<line x1="511.1" y1="333.8" x2="511.1" y2="336.4" stroke="#b4b4b4" stroke-width="0.55" />
<line x1="517.7" y1="613.6" x2="517.7" y2="611.0" stroke="#b4b4b4" stroke-width="0.55" />
<line x1="517.7" y1="333.8" x2="517.7" y2="336.4" stroke="#b4b4b4" stroke-width="0.55" />
<line x1="523.4" y1="613.6" x2="523.4" y2="611.0" stroke="#b4b4b4" stroke-width="0.55" />
<line x1="523.4" y1="333.8" x2="523.4" y2="336.4" stroke="#b4b4b4" stroke-width="0.55" />
<line x1="528.6" y1="613.6" x2="528.6" y2="608.4" stroke="#b4b4b4" stroke-width="0.55" />
<line x1="528.6" y1="333.8" x2="528.6" y2="339.0" stroke="#b4b4b4" stroke-width="0.55" />
<line x1="562.6" y1="613.6" x2="562.6" y2="611.0" stroke="#b4b4b4" stroke-width="0.55" />
<line x1="562.6" y1="333.8" x2="562.6" y2="336.4" stroke="#b4b4b4" stroke-width="0.55" />
<line x1="582.5" y1="613.6" x2="582.5" y2="611.0" stroke="#b4b4b4" stroke-width="0.55" />
<line x1="582.5" y1="333.8" x2="582.5" y2="336.4" stroke="#b4b4b4" stroke-width="0.55" />
<line x1="596.6" y1="613.6" x2="596.6" y2="611.0" stroke="#b4b4b4" stroke-width="0.55" />
<line x1="596.6" y1="333.8" x2="596.6" y2="336.4" stroke="#b4b4b4" stroke-width="0.55" />
<line x1="48.5" y1="585.5" x2="53.9" y2="585.5" stroke="#b4b4b4" stroke-width="0.55" />
<line x1="607.5" y1="585.5" x2="602.1" y2="585.5" stroke="#b4b4b4" stroke-width="0.55" />
<line x1="48.5" y1="551.8" x2="51.3" y2="551.8" stroke="#b4b4b4" stroke-width="0.55" />
<line x1="607.5" y1="551.8" x2="604.7" y2="551.8" stroke="#b4b4b4" stroke-width="0.55" />
<line x1="48.5" y1="518.1" x2="53.9" y2="518.1" stroke="#b4b4b4" stroke-width="0.55" />
<line x1="607.5" y1="518.1" x2="602.1" y2="518.1" stroke="#b4b4b4" stroke-width="0.55" />
<line x1="48.5" y1="484.4" x2="51.3" y2="484.4" stroke="#b4b4b4" stroke-width="0.55" />
<line x1="607.5" y1="484.4" x2="604.7" y2="484.4" stroke="#b4b4b4" stroke-width="0.55" />
<line x1="48.5" y1="450.6" x2="53.9" y2="450.6" stroke="#b4b4b4" stroke-width="0.55" />
<line x1="607.5" y1="450.6" x2="602.1" y2="450.6" stroke="#b4b4b4" stroke-width="0.55" />
<line x1="48.5" y1="416.9" x2="51.3" y2="416.9" stroke="#b4b4b4" stroke-width="0.55" />
<line x1="607.5" y1="416.9" x2="604.7" y2="416.9" stroke="#b4b4b4" stroke-width="0.55" />
<line x1="48.5" y1="383.2" x2="53.9" y2="383.2" stroke="#b4b4b4" stroke-width="0.55" />
<line x1="607.5" y1="383.2" x2="602.1" y2="383.2" stroke="#b4b4b4" stroke-width="0.55" />
<line x1="48.5" y1="349.5" x2="51.3" y2="349.5" stroke="#b4b4b4" stroke-width="0.55" />
<line x1="607.5" y1="349.5" x2="604.7" y2="349.5" stroke="#b4b4b4" stroke-width="0.55" />
<clipPath id="cbot"><rect x="48.5" y="333.8" width="559.0" height="279.8"/></clipPath>
<g clip-path="url(#cbot)">
<line x1="89.6" y1="331.8" x2="607.5" y2="589.6" stroke="#2a2af0" stroke-width="1.1" stroke-dasharray="5.8 3.5 1.3 3.5" stroke-dashoffset="-0.55"/>
<line x1="77.2" y1="343.4" x2="607.5" y2="607.4" stroke="#2a2af0" stroke-width="1.1" stroke-dasharray="5.8 3.5 1.3 3.5" stroke-dashoffset="9.6"/>
<line x1="133.6" y1="333.0" x2="607.5" y2="616.1" stroke="#f58a1f" stroke-width="1.2" stroke-dasharray="6.5 6.2" />
<polyline points="65.1,400.2 65.2,399.7 65.3,399.3 65.3,398.8 65.4,398.3 65.5,397.9 65.6,397.4 65.7,396.9 65.8,396.4 65.9,396.0 66.0,395.5 66.1,395.0 66.2,394.6 66.2,394.1 66.3,393.6 66.4,393.2 66.5,392.7 66.6,392.2 66.8,391.7 66.9,391.3 67.0,390.8 67.1,390.3 67.2,389.9 67.3,389.4 67.4,388.9 67.5,388.5 67.6,388.0 67.8,387.5 67.9,387.1 68.0,386.6 68.1,386.1 68.3,385.7 68.4,385.2 68.5,384.7 68.6,384.3 68.8,383.8 68.9,383.3 69.0,382.9 69.2,382.4 69.3,382.0 69.5,381.5 69.6,381.0 69.8,380.6 69.9,380.1 70.1,379.7 70.2,379.2 70.4,378.7 70.5,378.3 70.7,377.8 70.8,377.4 71.0,376.9 71.2,376.5 71.3,376.0 71.5,375.6 71.7,375.1 71.8,374.7 72.0,374.2 72.2,373.8 72.4,373.4 72.6,372.9 72.8,372.5 72.9,372.0 73.1,371.6 73.3,371.1 73.5,370.7 73.7,370.3 73.9,369.8 74.1,369.4 74.3,369.0 74.5,368.5 74.7,368.1 74.9,367.7 75.2,367.3 75.4,366.8 75.6,366.4 75.8,366.0 76.0,365.6 76.3,365.1 76.5,364.7 76.7,364.3 77.0,363.9 77.2,363.5 77.4,363.1 77.7,362.7 77.9,362.3 78.2,361.9 78.4,361.5 78.7,361.0 78.9,360.6 79.2,360.3 79.5,359.9 79.7,359.5 80.0,359.1 80.3,358.7 80.6,358.3 80.9,357.9 81.1,357.5 81.4,357.1 81.7,356.8 82.0,356.4 82.3,356.0 82.6,355.6 82.9,355.3 83.3,354.9 83.6,354.5 83.9,354.2 84.2,353.8 84.6,353.5 84.9,353.1 85.2,352.8 85.6,352.4 85.9,352.1 86.3,351.7 86.6,351.4 87.0,351.1 87.3,350.7 87.7,350.4 88.1,350.1 88.5,349.8 88.8,349.5 89.2,349.2 89.6,348.9 90.0,348.6 90.4,348.3 90.8,348.1 91.2,347.8 91.7,347.5 92.1,347.3 92.5,347.1 92.9,346.8 93.4,346.6 93.8,346.4 94.3,346.2 94.7,346.0 95.2,345.8 95.6,345.7 96.1,345.5 96.5,345.4 97.0,345.3 97.4,345.2 97.9,345.1 98.4,345.1 98.8,345.1 99.3,345.1 99.7,345.1 100.2,345.2 100.6,345.3 101.0,345.4 101.5,345.5 101.9,345.7 102.3,345.9 102.7,346.1 103.2,346.4 103.6,346.7 104.0,346.9 104.4,347.2 104.8,347.5 105.2,347.8 105.6,348.1 106.0,348.4 106.4,348.6 106.8,348.9 107.2,349.1 107.7,349.4 108.1,349.6 108.5,349.9 108.9,350.1 109.3,350.3 109.8,350.6 110.2,350.8 110.6,351.0 111.0,351.3 111.5,351.5 111.9,351.7 112.3,351.9 112.8,352.1 113.2,352.3 113.6,352.5 114.0,352.8 114.5,353.0 114.9,353.2 115.3,353.4 115.8,353.6 116.2,353.8 116.6,354.0 117.1,354.2 117.5,354.4 117.9,354.6 118.4,354.8 118.8,355.0 119.2,355.2 119.6,355.5 120.1,355.7 120.5,355.9 120.9,356.1 121.4,356.3 121.8,356.5 122.2,356.7 122.7,356.9 123.1,357.1 123.5,357.3 124.0,357.5 124.4,357.7 124.8,357.9 125.3,358.1 125.7,358.3 126.1,358.6 126.6,358.8 127.0,359.0 127.4,359.2 127.9,359.4 128.3,359.6 128.7,359.8 129.2,360.0 129.6,360.2 130.0,360.4 130.5,360.6 130.9,360.8 131.3,361.0 131.8,361.2 132.2,361.4 132.6,361.6 133.1,361.8 133.5,362.0 133.9,362.2 134.4,362.4 134.8,362.6 135.2,362.8 135.7,363.0 136.1,363.2 136.5,363.5 137.0,363.7 137.4,363.9 137.8,364.1 138.3,364.3 138.7,364.5 139.1,364.7 139.6,364.9 140.0,365.1 140.5,365.3 140.9,365.5 141.3,365.7 141.8,365.9 142.2,366.1 142.6,366.3 143.1,366.5 143.5,366.7 143.9,366.9 144.4,367.1 144.8,367.3 145.2,367.5 145.7,367.7 146.1,367.9 146.5,368.1 147.0,368.3 147.4,368.5 147.9,368.7 148.3,368.9 148.7,369.1 149.2,369.3 149.6,369.5 150.0,369.7 150.5,369.9 150.9,370.1 151.3,370.3 151.8,370.5 152.2,370.7 152.7,370.9 153.1,371.1 153.5,371.3 154.0,371.5 154.4,371.7 154.8,371.9 155.3,372.1 155.7,372.3 156.1,372.5 156.6,372.7 157.0,372.9 157.5,373.1 157.9,373.3 158.3,373.5 158.8,373.7 159.2,373.9 159.6,374.1 160.1,374.3 160.5,374.5 161.0,374.7 161.4,374.8 161.8,375.0 162.3,375.2 162.7,375.4 163.1,375.6 163.6,375.8 164.0,376.0 164.5,376.2 164.9,376.4 165.3,376.6 165.8,376.8 166.2,377.0 166.6,377.2 167.1,377.4 167.5,377.6 168.0,377.8 168.4,378.0 168.8,378.2 169.3,378.4 169.7,378.6 170.1,378.8 170.6,379.0 171.0,379.2 171.5,379.4 171.9,379.6 172.3,379.8 172.8,380.0 173.2,380.1 173.7,380.3 174.1,380.5 174.5,380.7 175.0,380.9 175.4,381.1 175.8,381.3 176.3,381.5 176.7,381.7 177.2,381.9 177.6,382.1 178.0,382.3 178.5,382.5 178.9,382.7 179.4,382.9 179.8,383.1 180.2,383.3 180.7,383.5 181.1,383.7 181.6,383.8 182.0,384.0 182.4,384.2 182.9,384.4 183.3,384.6 183.7,384.8 184.2,385.0 184.6,385.2 185.1,385.4 185.5,385.6 185.9,385.8 186.4,386.0 186.8,386.2 187.3,386.4 187.7,386.6 188.1,386.8 188.6,387.0 189.0,387.1 189.5,387.3 189.9,387.5 190.3,387.7 190.8,387.9 191.2,388.1 191.7,388.3 192.1,388.5 192.5,388.7 193.0,388.9 193.4,389.1 193.9,389.3 194.3,389.5 194.7,389.7 195.2,389.9 195.6,390.0 196.0,390.2 196.5,390.4 196.9,390.6 197.4,390.8 197.8,391.0 198.2,391.2 198.7,391.4 199.1,391.6 199.6,391.8 200.0,392.0 200.4,392.2 200.9,392.4 201.3,392.6 201.8,392.7 202.2,392.9 202.6,393.1 203.1,393.3 203.5,393.5 204.0,393.7 204.4,393.9 204.8,394.1 205.3,394.3 205.7,394.5 206.2,394.7 206.6,394.9 207.0,395.1 207.5,395.3 207.9,395.4 208.4,395.6 208.8,395.8 209.2,396.0 209.7,396.2 210.1,396.4 210.6,396.6 211.0,396.8 211.4,397.0 211.9,397.2 212.3,397.4 212.8,397.6 213.2,397.8 213.6,398.0 214.1,398.1 214.5,398.3 215.0,398.5 215.4,398.7 215.8,398.9 216.3,399.1 216.7,399.3 217.2,399.5 217.6,399.7 218.0,399.9 218.5,400.1 218.9,400.3 219.4,400.5 219.8,400.7 220.2,400.8 220.7,401.0 221.1,401.2 221.6,401.4 222.0,401.6 222.4,401.8 222.9,402.0 223.3,402.2 223.8,402.4 224.2,402.6 224.6,402.8 225.1,403.0 225.5,403.2 225.9,403.4 226.4,403.6 226.8,403.7 227.3,403.9 227.7,404.1 228.1,404.3 228.6,404.5 229.0,404.7 229.5,404.9 229.9,405.1 230.3,405.3 230.8,405.5 231.2,405.7 231.7,405.9 232.1,406.1 232.5,406.3 233.0,406.5 233.4,406.7 233.9,406.8 234.3,407.0 234.7,407.2 235.2,407.4 235.6,407.6 236.1,407.8 236.5,408.0 236.9,408.2 237.4,408.4 237.8,408.6 238.3,408.8 238.7,409.0 239.1,409.2 239.6,409.4 240.0,409.6 240.4,409.8 240.9,410.0 241.3,410.2 241.8,410.4 242.2,410.5 242.6,410.7 243.1,410.9 243.5,411.1 244.0,411.3 244.4,411.5 244.8,411.7 245.3,411.9 245.7,412.1 246.1,412.3 246.6,412.5 247.0,412.7 247.5,412.9 247.9,413.1 248.3,413.3 248.8,413.5 249.2,413.7 249.7,413.9 250.1,414.1 250.5,414.3 251.0,414.5 251.4,414.7 251.8,414.9 252.3,415.0 252.7,415.2 253.2,415.4 253.6,415.6 254.0,415.8 254.5,416.0 254.9,416.2 255.3,416.4 255.8,416.6 256.2,416.8 256.7,417.0 257.1,417.2 257.5,417.4 258.0,417.6 258.4,417.8 258.9,418.0 259.3,418.2 259.7,418.4 260.2,418.6 260.6,418.8 261.0,419.0 261.5,419.2 261.9,419.4 262.3,419.6 262.8,419.8 263.2,420.0 263.7,420.2 264.1,420.4 264.5,420.6 265.0,420.8 265.4,421.0 265.8,421.2 266.3,421.4 266.7,421.6 267.2,421.8 267.6,422.0 268.0,422.2 268.5,422.4 268.9,422.6 269.3,422.8 269.8,423.0 270.2,423.2 270.6,423.4 271.1,423.6 271.5,423.8 272.0,424.0 272.4,424.2 272.8,424.4 273.3,424.6 273.7,424.8 274.1,425.0 274.6,425.2 275.0,425.4 275.4,425.6 275.9,425.8 276.3,426.0 276.7,426.2 277.2,426.4 277.6,426.6 278.1,426.8 278.5,427.0 278.9,427.2 279.4,427.4 279.8,427.6 280.2,427.8 280.7,428.0 281.1,428.2 281.5,428.4 282.0,428.6 282.4,428.8 282.8,429.0 283.3,429.2 283.7,429.4 284.1,429.7 284.6,429.9 285.0,430.1 285.4,430.3 285.9,430.5 286.3,430.7 286.7,430.9 287.2,431.1 287.6,431.3 288.0,431.5 288.5,431.7 288.9,431.9 289.3,432.1 289.8,432.3 290.2,432.5 290.6,432.7 291.1,432.9 291.5,433.1 291.9,433.4 292.4,433.6 292.8,433.8 293.2,434.0 293.7,434.2 294.1,434.4 294.5,434.6 295.0,434.8 295.4,435.0 295.8,435.2 296.3,435.4 296.7,435.6 297.1,435.8 297.6,436.1 298.0,436.3 298.4,436.5 298.9,436.7 299.3,436.9 299.7,437.1 300.2,437.3 300.6,437.5 301.0,437.7 301.5,437.9 301.9,438.1 302.3,438.4 302.8,438.6 303.2,438.8 303.6,439.0 304.0,439.2 304.5,439.4 304.9,439.6 305.3,439.8 305.8,440.0 306.2,440.3 306.6,440.5 307.1,440.7 307.5,440.9 307.9,441.1 308.3,441.3 308.8,441.5 309.2,441.7 309.6,442.0 310.1,442.2 310.5,442.4 310.9,442.6 311.4,442.8 311.8,443.0 312.2,443.2 312.6,443.5 313.1,443.7 313.5,443.9 313.9,444.1 314.4,444.3 314.8,444.5 315.2,444.7 315.6,445.0 316.1,445.2 316.5,445.4 316.9,445.6 317.4,445.8 317.8,446.0 318.2,446.3 318.6,446.5 319.1,446.7 319.5,446.9 319.9,447.1 320.4,447.3 320.8,447.6 321.2,447.8 321.6,448.0 322.1,448.2 322.5,448.4 322.9,448.7 323.3,448.9 323.8,449.1 324.2,449.3 324.6,449.6 325.1,449.9 325.5,450.2 325.9,450.5 326.3,450.9 326.8,451.2 327.2,451.6 327.6,451.9 328.0,452.2 328.5,452.4 328.9,452.5 329.3,452.5 329.7,452.6 330.2,452.7 330.6,452.8 331.0,453.0 331.4,453.1 331.9,453.3 332.3,453.5 332.7,453.8 333.1,454.0 333.6,454.2 334.0,454.4 334.4,454.6 334.8,454.9 335.3,455.1 335.7,455.3 336.1,455.5 336.5,455.8 337.0,456.0 337.4,456.2 337.8,456.4 338.2,456.7 338.7,456.9 339.1,457.1 339.5,457.4 339.9,457.6 340.3,457.9 340.8,458.1 341.2,458.2 341.6,458.5 342.0,458.8 342.5,459.0 342.9,459.2 343.3,459.4 343.7,459.7 344.1,459.9 344.6,460.1 345.0,460.3 345.4,460.5 345.8,460.8 346.3,461.0 346.7,461.2 347.1,461.5 347.5,461.7 347.9,461.9 348.4,462.1 348.8,462.4 349.2,462.6 349.6,462.8 350.0,463.0 350.5,463.2 350.9,463.5 351.3,463.8 351.7,464.0 352.2,464.2 352.6,464.5 353.0,464.7 353.4,464.9 353.8,465.2 354.3,465.4 354.7,465.6 355.1,465.9 355.5,466.2 355.9,466.4 356.4,466.6 356.8,466.8 357.2,467.0 357.6,467.2 358.0,467.6 358.4,467.8 358.9,468.1 359.3,468.3 359.7,468.4 360.1,468.6 360.5,468.9 361.0,469.2 361.4,469.4 361.8,469.6 362.2,469.8 362.6,470.1 363.1,470.4 363.5,470.7 363.9,470.9 364.3,471.0 364.7,471.4 365.1,471.6 365.6,471.8 366.0,471.9 366.4,472.2 366.8,472.5 367.2,472.7 367.7,472.8 368.1,473.0 368.5,473.2 368.9,473.3 369.3,473.6 369.7,473.9 370.2,474.3 370.6,474.6 371.0,474.8 371.4,475.2 371.8,475.4 372.2,475.5 372.7,475.7 373.1,476.1 373.5,476.5 373.9,476.5 374.3,476.6 374.8,476.9 375.2,477.2 375.6,477.5 376.0,477.7 376.4,477.9 376.8,478.1 377.2,478.2 377.7,478.5 378.1,478.9 378.5,479.2 378.9,479.4 379.3,479.7 379.7,480.0 380.2,480.2 380.6,480.4 381.0,480.6 381.4,480.9 381.8,481.1 382.2,481.2 382.7,481.3 383.1,481.6 383.5,481.8 383.9,482.1 384.3,482.3 384.7,482.6 385.2,482.9 385.6,483.1 386.0,483.2 386.4,483.7 386.8,484.2 387.2,484.5 387.6,484.6 388.1,484.9 388.5,485.2 388.9,485.2 389.3,485.4 389.7,485.8 390.1,486.0 390.6,486.2 391.0,486.6 391.4,486.8 391.8,487.1 392.2,487.4 392.6,487.6 393.0,487.9 393.5,488.0 393.9,488.1 394.3,488.3 394.7,488.7 395.1,488.9 395.5,489.0 395.9,489.0 396.4,489.2 396.8,489.6 397.2,490.0 397.6,490.2 398.0,490.1 398.4,490.4 398.8,490.7 399.3,491.0 399.7,491.3 400.1,491.4 400.5,491.7 400.9,492.2 401.3,492.4 401.7,492.5 402.2,492.7 402.6,492.8 403.0,493.1 403.4,493.5 403.8,493.8 404.2,493.9 404.6,494.3 405.1,494.9 405.5,495.1 405.9,495.2 406.3,495.5 406.7,495.9 407.1,496.0 407.5,496.0 407.9,496.2 408.4,496.5 408.8,496.8 409.2,497.0 409.6,497.2 410.0,497.6 410.4,497.8 410.8,497.9 411.3,498.3 411.7,498.6 412.1,498.8 412.5,499.0 412.9,499.1 413.3,499.2 413.7,499.3 414.1,499.7 414.6,500.2 415.0,500.5 415.4,500.8 415.8,500.8 416.2,500.9 416.6,501.3 417.0,501.5 417.5,501.6 417.9,501.9 418.3,502.2 418.7,502.5 419.1,502.9 419.5,503.4 419.9,503.5 420.3,503.5 420.8,503.6 421.2,503.6 421.6,504.0 422.0,504.4 422.4,504.6 422.8,504.7 423.2,505.2 423.7,505.7 424.1,505.8 424.5,506.0 424.9,506.3 425.3,506.4 425.7,506.7 426.1,507.1 426.5,507.3 427.0,507.1 427.4,507.6 427.8,508.3 428.2,508.4 428.6,508.3 429.0,508.7 429.4,509.2 429.9,509.2 430.3,509.3 430.7,510.0 431.1,510.3 431.5,510.3 431.9,510.5 432.3,510.7 432.7,510.9 433.2,511.0 433.6,511.1 434.0,511.6 434.4,512.0 434.8,512.3 435.2,512.7 435.6,513.1 436.0,513.4 436.5,513.5 436.9,513.5 437.3,513.7 437.7,513.7 438.1,513.9 438.5,514.4 438.9,514.8 439.4,514.9 439.8,514.7 440.2,515.1 440.6,515.6 441.0,515.9 441.4,516.2 441.8,516.2 442.2,516.3 442.7,516.6 443.1,516.8 443.5,517.0 443.9,517.4 444.3,517.8 444.7,518.1 445.1,518.2 445.6,518.5 446.0,518.9 446.4,519.0 446.8,519.2 447.2,519.5 447.6,519.8 448.0,520.1 448.4,520.4 448.9,520.8 449.3,521.0 449.7,520.9 450.1,521.1 450.5,521.5 450.9,522.0 451.3,522.0 451.8,522.0 452.2,522.2 452.6,522.6 453.0,522.8 453.4,523.1 453.8,523.7 454.2,523.9 454.7,523.8 455.1,524.1 455.5,524.5 455.9,524.9 456.3,524.8 456.7,524.6 457.1,524.8 457.6,525.4 458.0,525.9 458.4,526.0 458.8,525.8 459.2,525.9 459.6,526.5 460.0,527.0 460.5,527.1 460.9,527.5 461.3,527.9 461.7,528.2 462.1,528.2 462.5,528.2 462.9,528.5 463.4,529.0 463.8,529.1 464.2,529.3 464.6,529.5 465.0,529.7 465.4,530.0 465.8,530.3 466.3,530.5 466.7,530.7 467.1,531.2 467.5,531.5 467.9,531.7 468.3,532.3 468.7,532.3 469.2,532.1 469.6,532.8 470.0,533.4 470.4,533.2 470.8,533.2 471.2,533.2 471.7,533.4 472.1,534.0 472.5,534.4 472.9,534.6 473.3,535.2 473.7,535.3 474.1,534.6 474.6,534.4 475.0,535.2 475.4,535.8 475.8,536.0 476.2,535.8 476.6,535.9 477.1,536.6 477.5,537.2 477.9,537.0 478.3,537.2 478.7,537.7 479.1,537.7 479.6,537.9 480.0,538.7 480.4,538.8 480.8,538.6 481.2,539.1 481.6,539.5 482.1,539.7 482.5,540.1 482.9,540.6 483.3,540.6 483.7,540.1 484.1,540.4 484.6,541.0 485.0,541.4 485.4,541.9 485.8,542.2 486.2,542.0 486.6,541.9 487.1,542.3 487.5,542.9 487.9,543.4 488.3,543.5 488.7,543.6 489.1,543.8 489.6,543.7 490.0,543.8 490.4,544.4 490.8,544.9 491.2,545.4 491.7,545.6 492.1,545.6 492.5,545.7 492.9,546.0 493.3,546.3 493.7,546.7 494.2,546.7 494.6,546.9 495.0,547.3 495.4,547.6 495.8,547.5 496.3,547.5 496.7,547.5 497.1,547.9 497.5,548.6 497.9,548.7 498.4,548.4 498.8,548.7 499.2,549.3 499.6,549.3 500.0,549.6 500.5,550.3 500.9,550.3 501.3,550.5 501.7,550.8 502.1,550.9 502.6,551.2 503.0,551.7 503.4,551.9 503.8,552.0 504.2,552.4 504.7,552.8 505.1,553.1 505.5,553.0 505.9,552.9 506.3,552.9 506.8,553.1 507.2,553.6 507.6,554.0 508.0,554.3 508.4,554.4 508.9,554.5 509.3,554.9 509.7,555.1 510.1,555.4 510.5,556.0 511.0,556.2 511.4,555.9 511.8,556.3 512.2,556.9 512.7,557.1 513.1,557.2 513.5,557.0 513.9,556.8 514.3,557.0 514.8,557.2 515.2,557.5 515.6,558.1 516.0,558.6 516.5,559.1 516.9,559.3 517.3,559.3 517.7,559.5 518.1,559.9 518.6,559.8 519.0,559.6 519.4,560.1 519.8,560.5 520.2,560.5 520.7,561.0 521.1,561.6 521.5,561.5 521.9,561.5 522.4,561.7 522.8,561.7 523.2,562.0 523.6,562.3 524.0,562.7 524.5,563.1 524.9,563.5 525.3,563.9 525.7,563.9 526.2,563.9 526.6,564.3 527.0,564.9 527.4,565.1 527.8,565.0 528.3,565.2 528.7,565.5 529.1,565.6 529.5,565.9 530.0,566.1 530.4,565.9 530.8,565.8 531.2,566.4 531.6,566.6 532.1,566.7 532.5,567.5 532.9,567.9 533.3,567.9 533.8,567.9 534.2,568.5 534.6,569.4 535.0,569.7 535.4,569.6 535.9,569.4 536.3,569.8 536.7,570.2 537.1,570.1 537.5,570.1 538.0,570.7 538.4,571.0 538.8,571.0 539.2,571.4 539.6,571.8 540.1,571.9 540.5,572.2 540.9,572.5 541.3,572.5 541.8,572.5 542.2,573.0 542.6,573.4 543.0,573.3 543.4,573.3 543.9,573.1 544.3,573.1 544.7,573.7 545.1,574.5 545.5,574.7 545.9,574.4 546.4,574.1 546.8,574.7 547.2,575.6 547.6,576.0 548.0,575.9 548.5,576.3 548.9,577.0 549.3,577.2 549.7,576.9 550.1,576.8 550.6,577.4 551.0,578.0 551.4,578.2 551.8,578.0 552.2,578.5 552.6,579.1 553.1,579.2 553.5,579.1 553.9,579.4 554.3,579.7 554.7,579.5 555.1,579.7 555.6,580.3 556.0,580.7 556.4,581.1 556.8,581.4 557.2,581.7 557.6,581.7 558.1,581.8 558.5,581.9 558.9,582.1 559.3,582.7 559.7,583.0 560.1,583.6 560.5,584.2 561.0,584.2 561.4,584.0 561.8,583.8 562.2,583.9 562.6,584.6 563.0,585.2 563.4,585.6 563.9,585.5 564.3,585.8 564.7,585.9 565.1,586.1 565.5,586.2 565.9,586.2 566.3,586.1 566.7,586.5 567.1,587.3 567.6,587.9 568.0,587.8 568.4,587.9 568.8,588.6 569.2,589.0 569.6,588.9 570.0,588.4 570.4,588.1 570.8,588.7 571.3,589.3 571.7,589.6 572.1,589.6 572.5,589.7 572.9,590.1 573.3,590.6 573.7,591.1 574.1,591.7 574.5,592.2 574.9,592.3 575.3,592.3 575.7,592.7 576.2,592.9 576.6,593.1 577.0,593.5 577.4,593.9 577.8,594.4 578.2,595.0 578.6,594.9 579.0,594.5 579.4,594.8 579.8,595.0 580.2,594.9 580.7,595.1 581.1,595.3 581.5,595.6 581.9,596.1 582.3,596.6 582.7,596.5 583.1,596.0 583.5,596.2 584.0,596.7 584.4,597.0 584.8,597.3 585.2,597.7 585.6,597.9 586.0,597.9 586.5,598.5 586.9,599.1 587.3,599.5 587.7,599.9 588.1,600.0 588.5,599.9 589.0,600.1 589.4,600.5 589.8,600.9 590.2,601.1 590.7,601.6 591.1,601.6 591.5,601.2 591.9,601.3 592.4,601.9 592.8,602.5 593.2,602.9 593.7,603.1 594.1,603.1 594.5,603.0 595.0,603.1 595.4,603.3 595.8,603.7 596.3,604.0 596.7,603.9 597.1,604.4 597.6,604.9 598.0,604.6 598.5,604.4 598.9,604.5 599.3,604.8 599.8,605.3 600.2,605.4 600.7,605.3 601.1,605.2 601.6,605.3 602.0,606.1 602.5,606.5 603.0,606.8 603.4,607.2 603.9,607.2 604.3,607.2 604.8,607.5 605.3,607.6 605.7,607.4 606.2,607.2 606.7,607.2 607.1,607.9 607.5,608.4" fill="none" stroke="#1c1c1c" stroke-width="1.3" stroke-linejoin="round" />
</g>
<rect x="48.5" y="333.8" width="559.0" height="279.8" fill="none" stroke="#bababa" stroke-width="1.2"/>
<text x="45.4" y="387.4" text-anchor="end" font-family='"Liberation Serif", "DejaVu Serif", serif' font-size="12.5" fill="#222222">0.100</text>
<text x="45.4" y="454.8" text-anchor="end" font-family='"Liberation Serif", "DejaVu Serif", serif' font-size="12.5" fill="#222222">0.001</text>
<text x="44.8" y="522.3" text-anchor="end" font-family='"Liberation Serif", "DejaVu Serif", serif' font-size="12.5" fill="#222222">10<tspan font-size="8.9" dy="-4.3">−5</tspan></text>
<text x="44.8" y="589.7" text-anchor="end" font-family='"Liberation Serif", "DejaVu Serif", serif' font-size="12.5" fill="#222222">10<tspan font-size="8.9" dy="-4.3">−7</tspan></text>
<text x="77.0" y="627.6" text-anchor="middle" font-family='"Liberation Serif", "DejaVu Serif", serif' font-size="12.5" fill="#222222">0.1</text>
<text x="189.9" y="627.6" text-anchor="middle" font-family='"Liberation Serif", "DejaVu Serif", serif' font-size="12.5" fill="#222222">1</text>
<text x="302.8" y="627.6" text-anchor="middle" font-family='"Liberation Serif", "DejaVu Serif", serif' font-size="12.5" fill="#222222">10</text>
<text x="415.7" y="627.6" text-anchor="middle" font-family='"Liberation Serif", "DejaVu Serif", serif' font-size="12.5" fill="#222222">100</text>
<text x="528.6" y="627.6" text-anchor="middle" font-family='"Liberation Serif", "DejaVu Serif", serif' font-size="12.5" fill="#222222">1000</text>
<text x="327.5" y="644.4" text-anchor="middle" font-family='"Liberation Serif", "DejaVu Serif", serif' font-size="12.5" fill="#222222">t [yr]</text>
<text transform="translate(12.5 473.6) rotate(-90)" text-anchor="middle" font-family='"Liberation Serif", "DejaVu Serif", serif' font-size="13" fill="#222222"><tspan font-style="italic">M</tspan><tspan dx="-5.6" dy="-8.6" font-size="9">.</tspan><tspan dx="3.6" dy="8.6"> [</tspan><tspan dx="0.4" font-style="italic">M</tspan><tspan font-size="9.6" dx="-0.6" dy="2.6">⊙</tspan><tspan dy="-2.6" dx="-0.4"> yr</tspan><tspan font-size="9.2" dx="0.5" dy="-4.6">−1</tspan><tspan dy="4.6" dx="0.2">]</tspan></text>
<line x1="65.4" y1="554.4" x2="79.5" y2="554.4" stroke="#111111" stroke-width="1.7" />
<text x="83.2" y="557.6" font-family='"Liberation Serif", "DejaVu Serif", serif' font-size="9.8" fill="#222222"><tspan font-style="italic">β</tspan> = 0.90</text>
<line x1="65.4" y1="574.3" x2="79.5" y2="574.3" stroke="#2a2af0" stroke-width="1.5" stroke-dasharray="1.4 1.9 2.8 1.7 4.0 1.0 1.4 9" />
<line x1="65.4" y1="593.9" x2="79.5" y2="593.9" stroke="#f58a1f" stroke-width="1.5" stroke-dasharray="2.5 1.35" />
<text x="83.0" y="577.6" font-family='"Liberation Serif", "DejaVu Serif", serif' font-size="9.2" fill="#222222"><tspan font-style="italic">t</tspan><tspan font-size="7.2" dy="-3.5">−5/3</tspan></text>
<text x="83.0" y="597.2" font-family='"Liberation Serif", "DejaVu Serif", serif' font-size="9.2" fill="#222222"><tspan font-style="italic">t</tspan><tspan font-size="7.2" dy="-3.5">−2</tspan></text>
</g>
</svg>
</body>
</html>
